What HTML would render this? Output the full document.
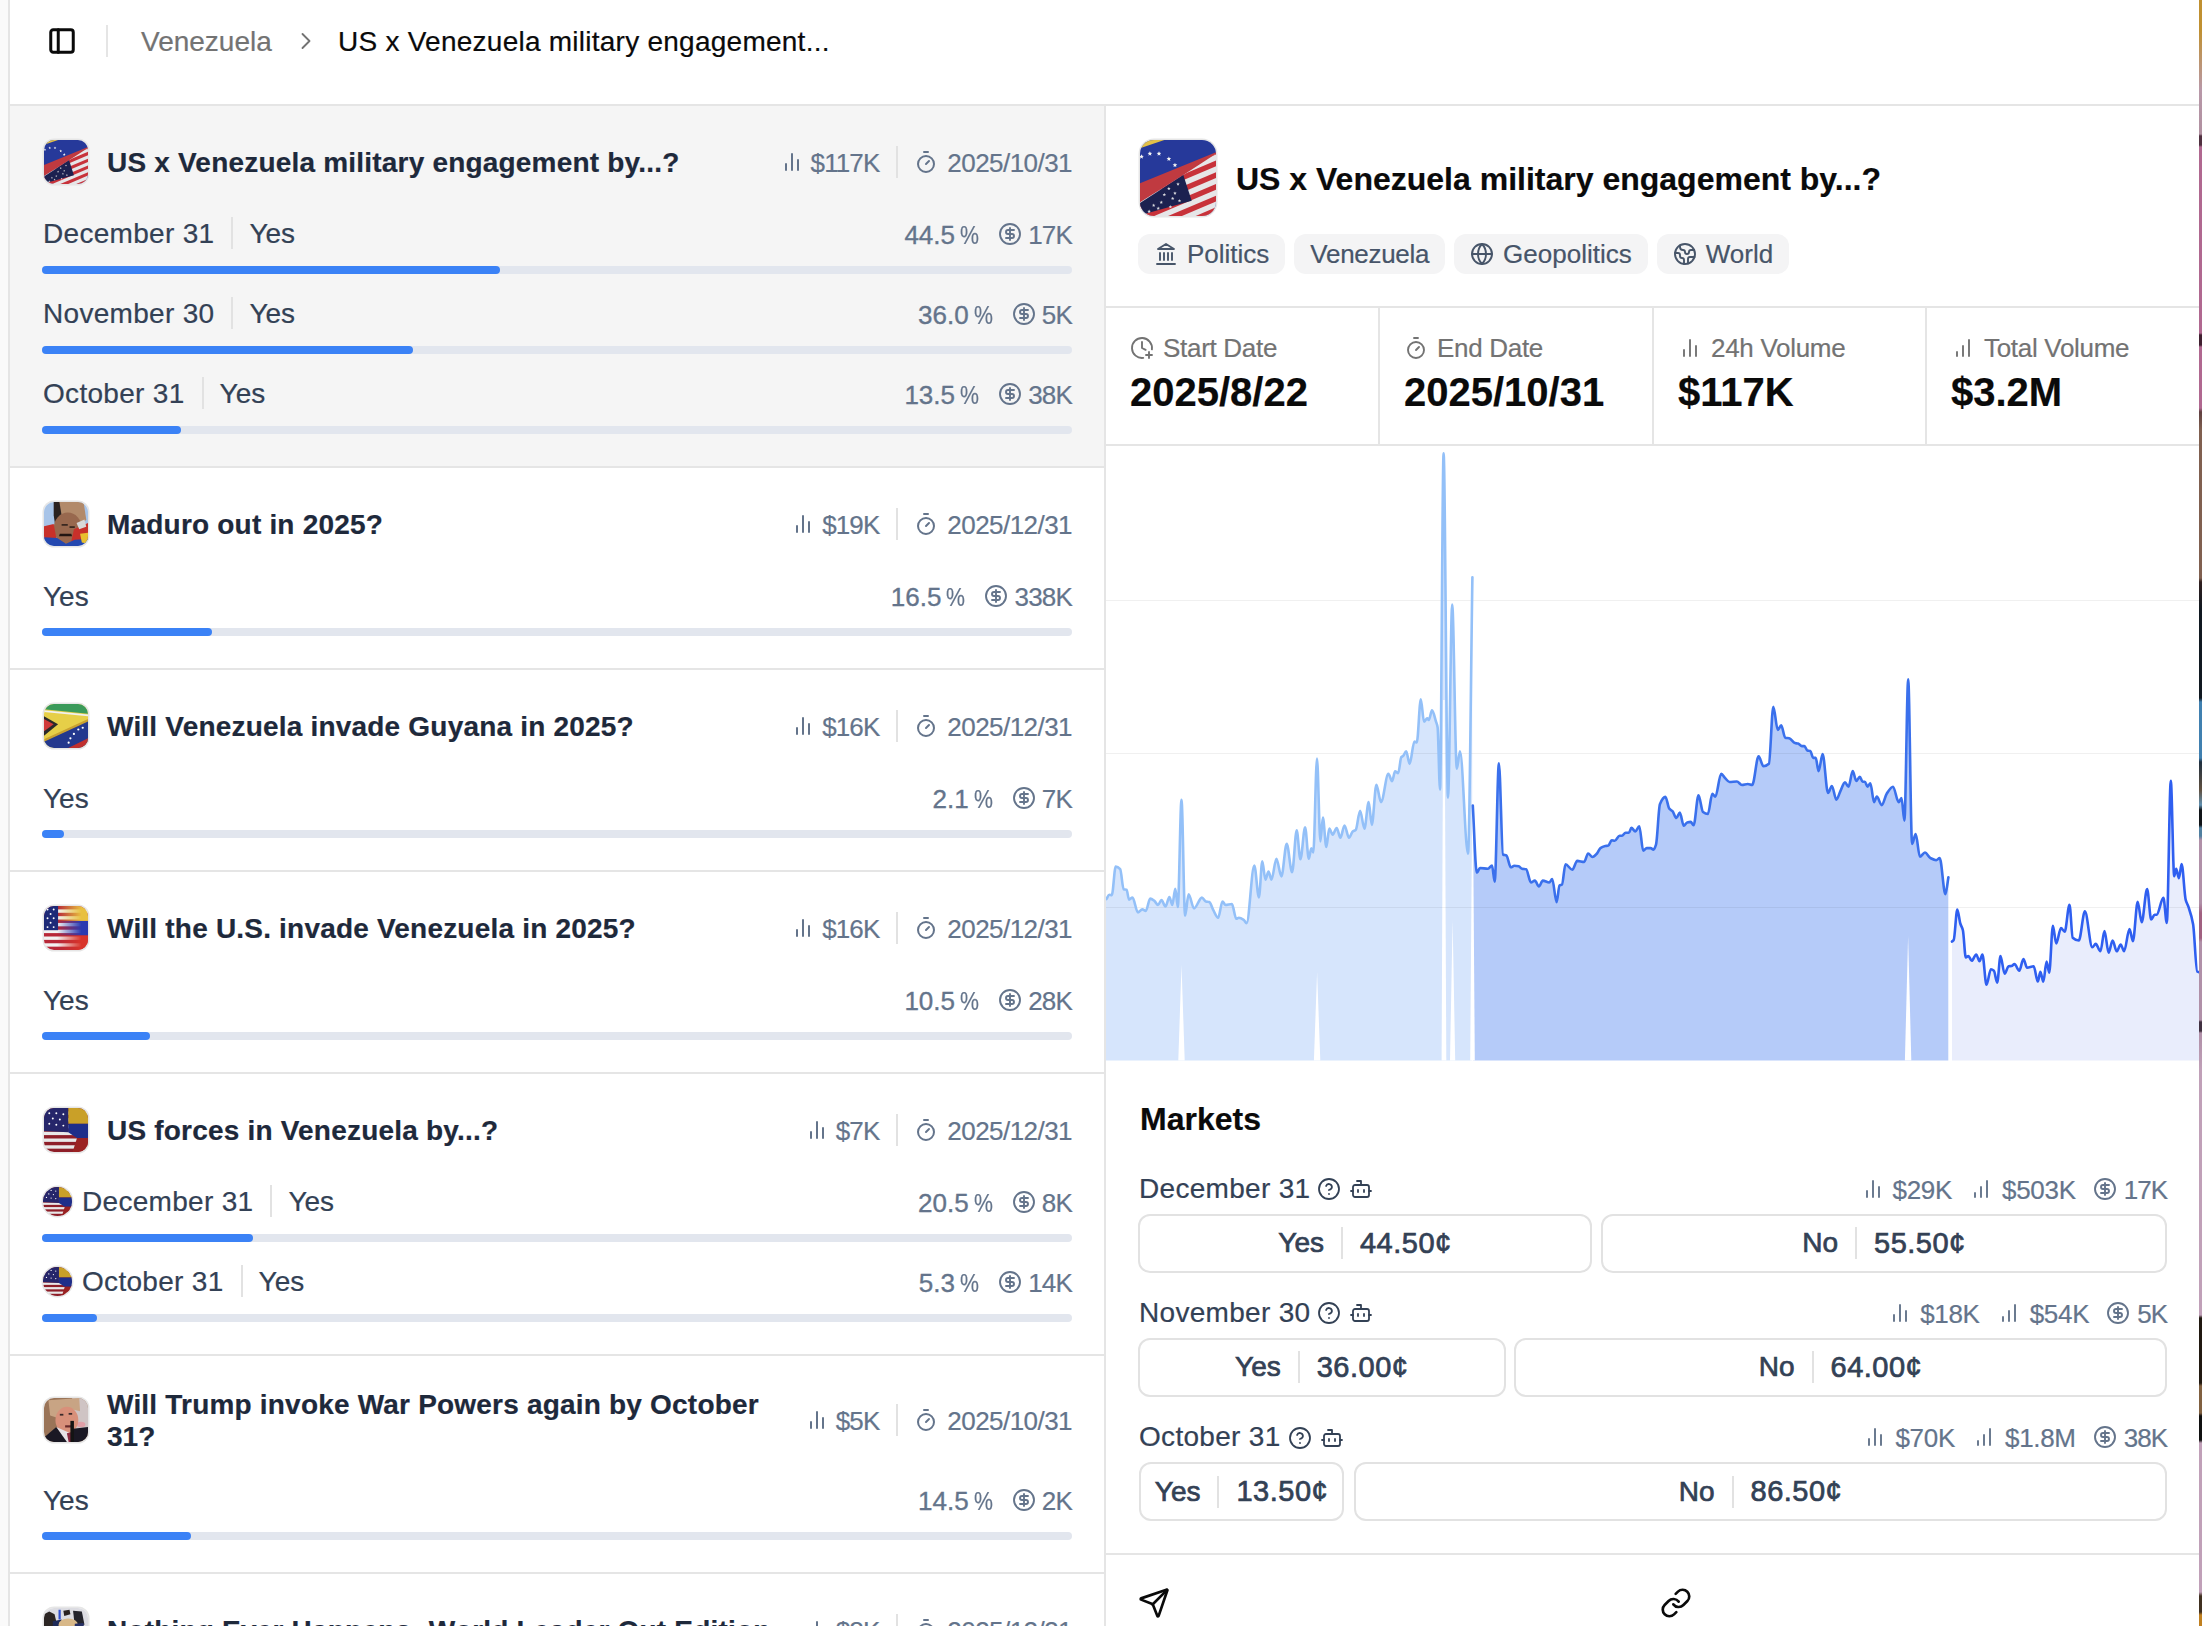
<!DOCTYPE html><html><head><meta charset="utf-8"><style>html,body{margin:0;padding:0;}body{width:2202px;height:1626px;overflow:hidden;position:relative;background:#fff;font-family:"Liberation Sans", sans-serif;-webkit-font-smoothing:antialiased;-webkit-text-stroke:0.2px currentColor;}</style></head><body><div style="position:absolute;left:0px;top:0px;width:8px;height:1626px;background:#fafafa;"></div>
<div style="position:absolute;left:8px;top:0px;width:2px;height:1626px;background:#e5e5e5;"></div>
<div style="position:absolute;left:2199px;top:0px;width:3px;height:1626px;background:linear-gradient(#c09030 0px,#c09030 30px,#b898a8 90px,#b090a0 134px,#503040 136px,#503040 145px,#b06890 147px,#b06890 333px,#402030 335px,#402030 345px,#b06890 347px,#b06890 408px,#604040 412px,#806050 430px,#806050 578px,#302020 582px,#101820 610px,#101820 698px,#4080b0 702px,#4080b0 758px,#203040 762px,#605040 790px,#6090b0 805px,#101418 810px,#101418 825px,#5080a0 828px,#5080a0 836px,#b090a8 840px,#b090a8 903px,#a06080 913px,#a06080 938px,#b090a8 942px,#b090a8 1020px,#403040 1022px,#403040 1031px,#b090a8 1033px,#c0a0b8 1070px,#c0a0b8 1315px,#201810 1318px,#201810 1383px,#806040 1386px,#806040 1413px,#101010 1416px,#101010 1440px,#c0a0b8 1443px,#c0a0b8 1592px,#403020 1596px,#403020 1612px,#c08020 1615px,#c08020 1626px);left:2199.4px;"></div>
<div style="position:absolute;left:10px;top:104px;width:2189px;height:2px;background:#e5e5e5;"></div>
<div style="position:absolute;left:1104px;top:106px;width:2px;height:1520px;background:#e5e5e5;"></div>
<svg style="position:absolute;left:47px;top:26px;" width="30" height="30" viewBox="0 0 24 24" fill="none" stroke="#0a0a0a" stroke-width="2.4" stroke-linecap="round" stroke-linejoin="round"><rect width="18" height="18" x="3" y="3" rx="2"/><path d="M9 3v18"/></svg>
<div style="position:absolute;left:106px;top:25px;width:2px;height:32px;background:#e5e5e5;"></div>
<div style="position:absolute;left:141px;top:21.10px;height:42px;line-height:42px;font-size:28px;font-weight:400;color:#737373;white-space:nowrap;">Venezuela</div>
<svg style="position:absolute;left:292px;top:27px;" width="28" height="28" viewBox="0 0 24 24" fill="none" stroke="#737373" stroke-width="1.6" stroke-linecap="round" stroke-linejoin="round"><path d="m9 18 6-6-6-6"/></svg>
<div style="position:absolute;left:338px;top:21.10px;height:42px;line-height:42px;font-size:28px;font-weight:400;color:#0a0a0a;white-space:nowrap;letter-spacing:0.25px;">US x Venezuela military engagement...</div>
<div style="position:absolute;left:10px;top:106px;width:1094px;height:360px;background:#f5f5f5;"></div>
<div style="position:absolute;left:44px;top:140px;width:44px;height:44px;border-radius:10px;overflow:hidden;box-shadow:0 0 0 1.5px #e6e6e6;"><svg width="44" height="44" viewBox="0 0 100 100" preserveAspectRatio="none" style="display:block"><defs><clipPath id="c1"><polygon points="0,100 0,82 57,46 100,18 100,100"/></clipPath></defs><rect width="100" height="100" fill="#26399a"/><polygon points="0,0 32,0 0,11" fill="#e2c048"/><polygon points="2.00,18.80 2.85,20.84 5.04,21.01 3.37,22.44 3.88,24.59 2.00,23.44 0.12,24.59 0.63,22.44 -1.04,21.01 1.15,20.84" fill="#f4f4f4"/><polygon points="13.00,14.80 13.85,16.84 16.04,17.01 14.37,18.44 14.88,20.59 13.00,19.44 11.12,20.59 11.63,18.44 9.96,17.01 12.15,16.84" fill="#f4f4f4"/><polygon points="25.00,14.80 25.85,16.84 28.04,17.01 26.37,18.44 26.88,20.59 25.00,19.44 23.12,20.59 23.63,18.44 21.96,17.01 24.15,16.84" fill="#f4f4f4"/><polygon points="38.00,21.80 38.85,23.84 41.04,24.01 39.37,25.44 39.88,27.59 38.00,26.44 36.12,27.59 36.63,25.44 34.96,24.01 37.15,23.84" fill="#f4f4f4"/><polygon points="46.00,29.80 46.85,31.84 49.04,32.01 47.37,33.44 47.88,35.59 46.00,34.44 44.12,35.59 44.63,33.44 42.96,32.01 45.15,31.84" fill="#f4f4f4"/><polygon points="0,57 100,16 100,24 57,46 0,83" fill="#c03a40"/><g clip-path="url(#c1)"><rect width="100" height="100" fill="#e6e6e8"/><g transform="rotate(-23 60 60)"><rect x="-60" y="-40.0" width="240" height="7.1" fill="#c8323a"/><rect x="-60" y="-25.8" width="240" height="7.1" fill="#c8323a"/><rect x="-60" y="-11.6" width="240" height="7.1" fill="#c8323a"/><rect x="-60" y="2.6" width="240" height="7.1" fill="#c8323a"/><rect x="-60" y="16.8" width="240" height="7.1" fill="#c8323a"/><rect x="-60" y="31.0" width="240" height="7.1" fill="#c8323a"/><rect x="-60" y="45.2" width="240" height="7.1" fill="#c8323a"/><rect x="-60" y="59.4" width="240" height="7.1" fill="#c8323a"/><rect x="-60" y="73.6" width="240" height="7.1" fill="#c8323a"/><rect x="-60" y="87.8" width="240" height="7.1" fill="#c8323a"/><rect x="-60" y="102.0" width="240" height="7.1" fill="#c8323a"/><rect x="-60" y="116.2" width="240" height="7.1" fill="#c8323a"/><rect x="-60" y="130.4" width="240" height="7.1" fill="#c8323a"/><rect x="-60" y="144.6" width="240" height="7.1" fill="#c8323a"/><rect x="-60" y="158.8" width="240" height="7.1" fill="#c8323a"/><rect x="-60" y="173.0" width="240" height="7.1" fill="#c8323a"/><rect x="-60" y="187.2" width="240" height="7.1" fill="#c8323a"/><rect x="-60" y="201.4" width="240" height="7.1" fill="#c8323a"/><rect x="-60" y="215.6" width="240" height="7.1" fill="#c8323a"/><rect x="-60" y="229.8" width="240" height="7.1" fill="#c8323a"/></g></g><polygon points="0,83 57,46 68,80 0,99" fill="#1c2150"/><polygon points="38.00,61.60 38.63,63.13 40.28,63.26 39.03,64.33 39.41,65.94 38.00,65.08 36.59,65.94 36.97,64.33 35.72,63.26 37.37,63.13" fill="#d8d8dc"/><polygon points="46.00,67.60 46.63,69.13 48.28,69.26 47.03,70.33 47.41,71.94 46.00,71.08 44.59,71.94 44.97,70.33 43.72,69.26 45.37,69.13" fill="#d8d8dc"/><polygon points="32.00,69.60 32.63,71.13 34.28,71.26 33.03,72.33 33.41,73.94 32.00,73.08 30.59,73.94 30.97,72.33 29.72,71.26 31.37,71.13" fill="#d8d8dc"/><polygon points="43.00,74.60 43.63,76.13 45.28,76.26 44.03,77.33 44.41,78.94 43.00,78.08 41.59,78.94 41.97,77.33 40.72,76.26 42.37,76.13" fill="#d8d8dc"/><polygon points="52.00,77.60 52.63,79.13 54.28,79.26 53.03,80.33 53.41,81.94 52.00,81.08 50.59,81.94 50.97,80.33 49.72,79.26 51.37,79.13" fill="#d8d8dc"/><polygon points="28.00,79.60 28.63,81.13 30.28,81.26 29.03,82.33 29.41,83.94 28.00,83.08 26.59,83.94 26.97,82.33 25.72,81.26 27.37,81.13" fill="#d8d8dc"/><polygon points="40.00,85.60 40.63,87.13 42.28,87.26 41.03,88.33 41.41,89.94 40.00,89.08 38.59,89.94 38.97,88.33 37.72,87.26 39.37,87.13" fill="#d8d8dc"/><polygon points="18.00,83.60 18.63,85.13 20.28,85.26 19.03,86.33 19.41,87.94 18.00,87.08 16.59,87.94 16.97,86.33 15.72,85.26 17.37,85.13" fill="#d8d8dc"/><polygon points="12.00,91.60 12.63,93.13 14.28,93.26 13.03,94.33 13.41,95.94 12.00,95.08 10.59,95.94 10.97,94.33 9.72,93.26 11.37,93.13" fill="#d8d8dc"/><polygon points="50.00,55.60 50.63,57.13 52.28,57.26 51.03,58.33 51.41,59.94 50.00,59.08 48.59,59.94 48.97,58.33 47.72,57.26 49.37,57.13" fill="#d8d8dc"/><polygon points="24.00,87.60 24.63,89.13 26.28,89.26 25.03,90.33 25.41,91.94 24.00,91.08 22.59,91.94 22.97,90.33 21.72,89.26 23.37,89.13" fill="#d8d8dc"/></svg></div>
<div style="position:absolute;left:107px;top:142.10px;height:42px;line-height:42px;font-size:28px;font-weight:700;color:#1e293b;white-space:nowrap;letter-spacing:0.2px;">US x Venezuela military engagement by...?</div>
<div style="position:absolute;right:1130px;top:143px;height:40px;display:flex;align-items:center;color:#64748b;font-size:26px;line-height:40px;white-space:nowrap"><svg width="24" height="24" viewBox="0 0 24 24" fill="none" stroke="#64748b" stroke-width="2" stroke-linecap="round" stroke-linejoin="round" style="margin-right:7px;margin-top:-2px"><line x1="18" x2="18" y1="20" y2="10"/><line x1="12" x2="12" y1="20" y2="4"/><line x1="6" x2="6" y1="20" y2="14"/></svg><span style="letter-spacing:-0.9px">$117K</span><span style="display:inline-block;width:2px;height:32px;background:#e2e2e2;margin:0 16px 0 17px;position:relative;top:-1px"></span><svg width="24" height="24" viewBox="0 0 24 24" fill="none" stroke="#64748b" stroke-width="2" stroke-linecap="round" stroke-linejoin="round" style="margin-right:9px;margin-top:-3px"><line x1="10" x2="14" y1="2" y2="2"/><line x1="12" x2="15" y1="14" y2="11"/><circle cx="12" cy="14" r="8"/></svg><span style="letter-spacing:-0.55px">2025/10/31</span></div>
<div style="position:absolute;left:43px;top:214.30px;height:40px;display:flex;align-items:center;color:#334155;font-size:28px;line-height:40px;white-space:nowrap"><span style="letter-spacing:0.3px">December 31</span><span style="display:inline-block;width:2px;height:32px;background:#e2e2e2;margin:0 16px 0 17px;position:relative;top:-1px"></span><span>Yes</span></div>
<div style="position:absolute;right:1130px;top:215.00px;height:40px;display:flex;align-items:center;color:#64748b;font-size:26px;line-height:40px;white-space:nowrap"><span style="-webkit-text-stroke:0.35px #64748b">44.5</span><span style="margin-left:5px;letter-spacing:-1px;transform:scaleX(0.82);display:inline-block;transform-origin:left">%</span><svg width="24" height="24" viewBox="0 0 24 24" fill="none" stroke="#64748b" stroke-width="1.9" stroke-linecap="round" stroke-linejoin="round" style="margin-left:16px;margin-right:6px;margin-top:-2px"><circle cx="12" cy="12" r="10"/><path d="M16 8h-6a2 2 0 1 0 0 4h4a2 2 0 1 1 0 4H8"/><path d="M12 18V6"/></svg><span style="letter-spacing:-0.8px">17K</span></div>
<div style="position:absolute;left:42px;top:266px;width:1030px;height:8px;background:#e2e6ee;border-radius:4px;"></div>
<div style="position:absolute;left:42px;top:266px;width:458px;height:8px;background:#3b82f6;border-radius:4px;"></div>
<div style="position:absolute;left:43px;top:294.30px;height:40px;display:flex;align-items:center;color:#334155;font-size:28px;line-height:40px;white-space:nowrap"><span style="letter-spacing:0.3px">November 30</span><span style="display:inline-block;width:2px;height:32px;background:#e2e2e2;margin:0 16px 0 17px;position:relative;top:-1px"></span><span>Yes</span></div>
<div style="position:absolute;right:1130px;top:295.00px;height:40px;display:flex;align-items:center;color:#64748b;font-size:26px;line-height:40px;white-space:nowrap"><span style="-webkit-text-stroke:0.35px #64748b">36.0</span><span style="margin-left:5px;letter-spacing:-1px;transform:scaleX(0.82);display:inline-block;transform-origin:left">%</span><svg width="24" height="24" viewBox="0 0 24 24" fill="none" stroke="#64748b" stroke-width="1.9" stroke-linecap="round" stroke-linejoin="round" style="margin-left:16px;margin-right:6px;margin-top:-2px"><circle cx="12" cy="12" r="10"/><path d="M16 8h-6a2 2 0 1 0 0 4h4a2 2 0 1 1 0 4H8"/><path d="M12 18V6"/></svg><span style="letter-spacing:-0.8px">5K</span></div>
<div style="position:absolute;left:42px;top:346px;width:1030px;height:8px;background:#e2e6ee;border-radius:4px;"></div>
<div style="position:absolute;left:42px;top:346px;width:371px;height:8px;background:#3b82f6;border-radius:4px;"></div>
<div style="position:absolute;left:43px;top:374.30px;height:40px;display:flex;align-items:center;color:#334155;font-size:28px;line-height:40px;white-space:nowrap"><span style="letter-spacing:0.3px">October 31</span><span style="display:inline-block;width:2px;height:32px;background:#e2e2e2;margin:0 16px 0 17px;position:relative;top:-1px"></span><span>Yes</span></div>
<div style="position:absolute;right:1130px;top:375.00px;height:40px;display:flex;align-items:center;color:#64748b;font-size:26px;line-height:40px;white-space:nowrap"><span style="-webkit-text-stroke:0.35px #64748b">13.5</span><span style="margin-left:5px;letter-spacing:-1px;transform:scaleX(0.82);display:inline-block;transform-origin:left">%</span><svg width="24" height="24" viewBox="0 0 24 24" fill="none" stroke="#64748b" stroke-width="1.9" stroke-linecap="round" stroke-linejoin="round" style="margin-left:16px;margin-right:6px;margin-top:-2px"><circle cx="12" cy="12" r="10"/><path d="M16 8h-6a2 2 0 1 0 0 4h4a2 2 0 1 1 0 4H8"/><path d="M12 18V6"/></svg><span style="letter-spacing:-0.8px">38K</span></div>
<div style="position:absolute;left:42px;top:426px;width:1030px;height:8px;background:#e2e6ee;border-radius:4px;"></div>
<div style="position:absolute;left:42px;top:426px;width:139px;height:8px;background:#3b82f6;border-radius:4px;"></div>
<div style="position:absolute;left:44px;top:502px;width:44px;height:44px;border-radius:10px;overflow:hidden;box-shadow:0 0 0 1.5px #e6e6e6;"><svg width="44" height="44" viewBox="0 0 100 100" preserveAspectRatio="none" style="display:block"><rect width="100" height="100" fill="#a8c4e8"/><polygon points="22,0 60,0 55,45 25,50 22,30" fill="#2a2220"/><polygon points="35,0 90,0 96,40 80,60 55,50 40,30" fill="#b28a6a"/><ellipse cx="54" cy="60" rx="32" ry="36" fill="#98684e"/><rect x="40" y="50" width="14" height="4" fill="#3a2820"/><rect x="58" y="55" width="12" height="4" fill="#3a2820"/><polygon points="36,72 62,72 64,78 34,78" fill="#221612"/><polygon points="0,55 22,50 28,82 0,84" fill="#c8302a"/><polygon points="68,62 100,48 100,86 62,90" fill="#c8302a"/><polygon points="74,48 92,40 96,56 80,62" fill="#d8d8d8"/><polygon points="0,80 30,82 50,95 70,86 100,84 100,100 0,100" fill="#2448b0"/><polygon points="82,72 100,70 100,95 86,92" fill="#e8c030"/></svg></div>
<div style="position:absolute;left:107px;top:504.10px;height:42px;line-height:42px;font-size:28px;font-weight:700;color:#1e293b;white-space:nowrap;letter-spacing:0.2px;">Maduro out in 2025?</div>
<div style="position:absolute;right:1130px;top:505px;height:40px;display:flex;align-items:center;color:#64748b;font-size:26px;line-height:40px;white-space:nowrap"><svg width="24" height="24" viewBox="0 0 24 24" fill="none" stroke="#64748b" stroke-width="2" stroke-linecap="round" stroke-linejoin="round" style="margin-right:7px;margin-top:-2px"><line x1="18" x2="18" y1="20" y2="10"/><line x1="12" x2="12" y1="20" y2="4"/><line x1="6" x2="6" y1="20" y2="14"/></svg><span style="letter-spacing:-0.9px">$19K</span><span style="display:inline-block;width:2px;height:32px;background:#e2e2e2;margin:0 16px 0 17px;position:relative;top:-1px"></span><svg width="24" height="24" viewBox="0 0 24 24" fill="none" stroke="#64748b" stroke-width="2" stroke-linecap="round" stroke-linejoin="round" style="margin-right:9px;margin-top:-3px"><line x1="10" x2="14" y1="2" y2="2"/><line x1="12" x2="15" y1="14" y2="11"/><circle cx="12" cy="14" r="8"/></svg><span style="letter-spacing:-0.55px">2025/12/31</span></div>
<div style="position:absolute;left:43px;top:576.10px;height:42px;line-height:42px;font-size:28px;font-weight:400;color:#334155;white-space:nowrap;">Yes</div>
<div style="position:absolute;right:1130px;top:577.00px;height:40px;display:flex;align-items:center;color:#64748b;font-size:26px;line-height:40px;white-space:nowrap"><span style="-webkit-text-stroke:0.35px #64748b">16.5</span><span style="margin-left:5px;letter-spacing:-1px;transform:scaleX(0.82);display:inline-block;transform-origin:left">%</span><svg width="24" height="24" viewBox="0 0 24 24" fill="none" stroke="#64748b" stroke-width="1.9" stroke-linecap="round" stroke-linejoin="round" style="margin-left:16px;margin-right:6px;margin-top:-2px"><circle cx="12" cy="12" r="10"/><path d="M16 8h-6a2 2 0 1 0 0 4h4a2 2 0 1 1 0 4H8"/><path d="M12 18V6"/></svg><span style="letter-spacing:-0.8px">338K</span></div>
<div style="position:absolute;left:42px;top:628px;width:1030px;height:8px;background:#e2e6ee;border-radius:4px;"></div>
<div style="position:absolute;left:42px;top:628px;width:170px;height:8px;background:#3b82f6;border-radius:4px;"></div>
<div style="position:absolute;left:44px;top:704px;width:44px;height:44px;border-radius:10px;overflow:hidden;box-shadow:0 0 0 1.5px #e6e6e6;"><svg width="44" height="44" viewBox="0 0 100 100" preserveAspectRatio="none" style="display:block"><rect width="100" height="100" fill="#e6cf48"/><polygon points="10,0 100,0 100,22 0,12" fill="#3a9a5a"/><polygon points="0,14 100,24 100,28 0,18" fill="#f0f0f0"/><polygon points="0,28 32,46 0,72" fill="#2a2a2a"/><polygon points="0,34 22,46 0,62" fill="#d03a3a"/><polygon points="0,84 100,38 100,100 0,100" fill="#23388e"/><polygon points="0,80 100,34 100,40 0,86" fill="#c9a030"/><polygon points="55,100 100,78 100,100" fill="#c0302e"/><g fill="#fff"><circle cx="78" cy="58" r="2.5"/><circle cx="68" cy="68" r="2.5"/><circle cx="60" cy="78" r="2.5"/><circle cx="56" cy="88" r="2.5"/><circle cx="88" cy="54" r="2.5"/></g></svg></div>
<div style="position:absolute;left:107px;top:706.10px;height:42px;line-height:42px;font-size:28px;font-weight:700;color:#1e293b;white-space:nowrap;letter-spacing:0.2px;">Will Venezuela invade Guyana in 2025?</div>
<div style="position:absolute;right:1130px;top:707px;height:40px;display:flex;align-items:center;color:#64748b;font-size:26px;line-height:40px;white-space:nowrap"><svg width="24" height="24" viewBox="0 0 24 24" fill="none" stroke="#64748b" stroke-width="2" stroke-linecap="round" stroke-linejoin="round" style="margin-right:7px;margin-top:-2px"><line x1="18" x2="18" y1="20" y2="10"/><line x1="12" x2="12" y1="20" y2="4"/><line x1="6" x2="6" y1="20" y2="14"/></svg><span style="letter-spacing:-0.9px">$16K</span><span style="display:inline-block;width:2px;height:32px;background:#e2e2e2;margin:0 16px 0 17px;position:relative;top:-1px"></span><svg width="24" height="24" viewBox="0 0 24 24" fill="none" stroke="#64748b" stroke-width="2" stroke-linecap="round" stroke-linejoin="round" style="margin-right:9px;margin-top:-3px"><line x1="10" x2="14" y1="2" y2="2"/><line x1="12" x2="15" y1="14" y2="11"/><circle cx="12" cy="14" r="8"/></svg><span style="letter-spacing:-0.55px">2025/12/31</span></div>
<div style="position:absolute;left:43px;top:778.10px;height:42px;line-height:42px;font-size:28px;font-weight:400;color:#334155;white-space:nowrap;">Yes</div>
<div style="position:absolute;right:1130px;top:779.00px;height:40px;display:flex;align-items:center;color:#64748b;font-size:26px;line-height:40px;white-space:nowrap"><span style="-webkit-text-stroke:0.35px #64748b">2.1</span><span style="margin-left:5px;letter-spacing:-1px;transform:scaleX(0.82);display:inline-block;transform-origin:left">%</span><svg width="24" height="24" viewBox="0 0 24 24" fill="none" stroke="#64748b" stroke-width="1.9" stroke-linecap="round" stroke-linejoin="round" style="margin-left:16px;margin-right:6px;margin-top:-2px"><circle cx="12" cy="12" r="10"/><path d="M16 8h-6a2 2 0 1 0 0 4h4a2 2 0 1 1 0 4H8"/><path d="M12 18V6"/></svg><span style="letter-spacing:-0.8px">7K</span></div>
<div style="position:absolute;left:42px;top:830px;width:1030px;height:8px;background:#e2e6ee;border-radius:4px;"></div>
<div style="position:absolute;left:42px;top:830px;width:22px;height:8px;background:#3b82f6;border-radius:4px;"></div>
<div style="position:absolute;left:44px;top:906px;width:44px;height:44px;border-radius:10px;overflow:hidden;box-shadow:0 0 0 1.5px #e6e6e6;"><svg width="44" height="44" viewBox="0 0 100 100" preserveAspectRatio="none" style="display:block"><defs><linearGradient id="gc2" x1="0" x2="1" y1="0" y2="0"><stop offset="0.3" stop-color="#fff" stop-opacity="0"/><stop offset="0.85" stop-color="#fff" stop-opacity="1"/></linearGradient><mask id="mc2"><rect width="100" height="100" fill="url(#gc2)"/></mask></defs><rect width="100" height="100" fill="#f2f2f2"/><rect x="0" y="0.0" width="100" height="7.7" fill="#b82838"/><rect x="0" y="15.4" width="100" height="7.7" fill="#b82838"/><rect x="0" y="30.8" width="100" height="7.7" fill="#b82838"/><rect x="0" y="46.2" width="100" height="7.7" fill="#b82838"/><rect x="0" y="61.6" width="100" height="7.7" fill="#b82838"/><rect x="0" y="77.0" width="100" height="7.7" fill="#b82838"/><rect x="0" y="92.4" width="100" height="7.7" fill="#b82838"/><g mask="url(#mc2)"><rect x="0" y="0" width="100" height="34" fill="#e8c040"/><rect x="0" y="34" width="100" height="33" fill="#2a3ab0"/><rect x="0" y="67" width="100" height="33" fill="#d8342a"/></g><rect x="0" y="0" width="32" height="55" fill="#1e2a78"/><g fill="#fff"><circle cx="8" cy="8" r="2.2"/><circle cx="22" cy="8" r="2.2"/><circle cx="15" cy="18" r="2.2"/><circle cx="8" cy="28" r="2.2"/><circle cx="22" cy="28" r="2.2"/><circle cx="15" cy="38" r="2.2"/><circle cx="8" cy="48" r="2.2"/><circle cx="22" cy="48" r="2.2"/></g></svg></div>
<div style="position:absolute;left:107px;top:908.10px;height:42px;line-height:42px;font-size:28px;font-weight:700;color:#1e293b;white-space:nowrap;letter-spacing:0.2px;">Will the U.S. invade Venezuela in 2025?</div>
<div style="position:absolute;right:1130px;top:909px;height:40px;display:flex;align-items:center;color:#64748b;font-size:26px;line-height:40px;white-space:nowrap"><svg width="24" height="24" viewBox="0 0 24 24" fill="none" stroke="#64748b" stroke-width="2" stroke-linecap="round" stroke-linejoin="round" style="margin-right:7px;margin-top:-2px"><line x1="18" x2="18" y1="20" y2="10"/><line x1="12" x2="12" y1="20" y2="4"/><line x1="6" x2="6" y1="20" y2="14"/></svg><span style="letter-spacing:-0.9px">$16K</span><span style="display:inline-block;width:2px;height:32px;background:#e2e2e2;margin:0 16px 0 17px;position:relative;top:-1px"></span><svg width="24" height="24" viewBox="0 0 24 24" fill="none" stroke="#64748b" stroke-width="2" stroke-linecap="round" stroke-linejoin="round" style="margin-right:9px;margin-top:-3px"><line x1="10" x2="14" y1="2" y2="2"/><line x1="12" x2="15" y1="14" y2="11"/><circle cx="12" cy="14" r="8"/></svg><span style="letter-spacing:-0.55px">2025/12/31</span></div>
<div style="position:absolute;left:43px;top:980.10px;height:42px;line-height:42px;font-size:28px;font-weight:400;color:#334155;white-space:nowrap;">Yes</div>
<div style="position:absolute;right:1130px;top:981.00px;height:40px;display:flex;align-items:center;color:#64748b;font-size:26px;line-height:40px;white-space:nowrap"><span style="-webkit-text-stroke:0.35px #64748b">10.5</span><span style="margin-left:5px;letter-spacing:-1px;transform:scaleX(0.82);display:inline-block;transform-origin:left">%</span><svg width="24" height="24" viewBox="0 0 24 24" fill="none" stroke="#64748b" stroke-width="1.9" stroke-linecap="round" stroke-linejoin="round" style="margin-left:16px;margin-right:6px;margin-top:-2px"><circle cx="12" cy="12" r="10"/><path d="M16 8h-6a2 2 0 1 0 0 4h4a2 2 0 1 1 0 4H8"/><path d="M12 18V6"/></svg><span style="letter-spacing:-0.8px">28K</span></div>
<div style="position:absolute;left:42px;top:1032px;width:1030px;height:8px;background:#e2e6ee;border-radius:4px;"></div>
<div style="position:absolute;left:42px;top:1032px;width:108px;height:8px;background:#3b82f6;border-radius:4px;"></div>
<div style="position:absolute;left:44px;top:1108px;width:44px;height:44px;border-radius:10px;overflow:hidden;box-shadow:0 0 0 1.5px #e6e6e6;"><svg width="44" height="44" viewBox="0 0 100 100" preserveAspectRatio="none" style="display:block"><rect width="100" height="100" fill="#e8e8e8"/><rect x="0" y="0.0" width="100" height="7.7" fill="#8e1e28"/><rect x="0" y="15.4" width="100" height="7.7" fill="#8e1e28"/><rect x="0" y="30.8" width="100" height="7.7" fill="#8e1e28"/><rect x="0" y="46.2" width="100" height="7.7" fill="#8e1e28"/><rect x="0" y="61.6" width="100" height="7.7" fill="#8e1e28"/><rect x="0" y="77.0" width="100" height="7.7" fill="#8e1e28"/><rect x="0" y="92.4" width="100" height="7.7" fill="#8e1e28"/><rect x="55" y="0" width="45" height="36" fill="#c9a028"/><polygon points="55,36 100,36 100,68 75,68 55,55" fill="#1e2e8a"/><polygon points="75,68 100,68 100,100 65,100" fill="#9a2222"/><polygon points="0,0 55,0 55,55 0,52" fill="#26266a"/><g fill="#fff"><circle cx="12" cy="12" r="2.2"/><circle cx="28" cy="12" r="2.2"/><circle cx="44" cy="14" r="2.2"/><circle cx="20" cy="24" r="2.2"/><circle cx="36" cy="26" r="2.2"/><circle cx="12" cy="36" r="2.2"/><circle cx="28" cy="38" r="2.2"/><circle cx="44" cy="40" r="2.2"/></g></svg></div>
<div style="position:absolute;left:107px;top:1110.10px;height:42px;line-height:42px;font-size:28px;font-weight:700;color:#1e293b;white-space:nowrap;letter-spacing:0.2px;">US forces in Venezuela by...?</div>
<div style="position:absolute;right:1130px;top:1111px;height:40px;display:flex;align-items:center;color:#64748b;font-size:26px;line-height:40px;white-space:nowrap"><svg width="24" height="24" viewBox="0 0 24 24" fill="none" stroke="#64748b" stroke-width="2" stroke-linecap="round" stroke-linejoin="round" style="margin-right:7px;margin-top:-2px"><line x1="18" x2="18" y1="20" y2="10"/><line x1="12" x2="12" y1="20" y2="4"/><line x1="6" x2="6" y1="20" y2="14"/></svg><span style="letter-spacing:-0.9px">$7K</span><span style="display:inline-block;width:2px;height:32px;background:#e2e2e2;margin:0 16px 0 17px;position:relative;top:-1px"></span><svg width="24" height="24" viewBox="0 0 24 24" fill="none" stroke="#64748b" stroke-width="2" stroke-linecap="round" stroke-linejoin="round" style="margin-right:9px;margin-top:-3px"><line x1="10" x2="14" y1="2" y2="2"/><line x1="12" x2="15" y1="14" y2="11"/><circle cx="12" cy="14" r="8"/></svg><span style="letter-spacing:-0.55px">2025/12/31</span></div>
<div style="position:absolute;left:43px;top:1187px;width:29px;height:29px;border-radius:14.5px;overflow:hidden;box-shadow:0 0 0 1.5px #e6e6e6;"><svg width="29" height="29" viewBox="0 0 100 100" preserveAspectRatio="none" style="display:block"><rect width="100" height="100" fill="#e8e8e8"/><rect x="0" y="0.0" width="100" height="7.7" fill="#8e1e28"/><rect x="0" y="15.4" width="100" height="7.7" fill="#8e1e28"/><rect x="0" y="30.8" width="100" height="7.7" fill="#8e1e28"/><rect x="0" y="46.2" width="100" height="7.7" fill="#8e1e28"/><rect x="0" y="61.6" width="100" height="7.7" fill="#8e1e28"/><rect x="0" y="77.0" width="100" height="7.7" fill="#8e1e28"/><rect x="0" y="92.4" width="100" height="7.7" fill="#8e1e28"/><rect x="55" y="0" width="45" height="36" fill="#c9a028"/><polygon points="55,36 100,36 100,68 75,68 55,55" fill="#1e2e8a"/><polygon points="75,68 100,68 100,100 65,100" fill="#9a2222"/><polygon points="0,0 55,0 55,55 0,52" fill="#26266a"/><g fill="#fff"><circle cx="12" cy="12" r="2.2"/><circle cx="28" cy="12" r="2.2"/><circle cx="44" cy="14" r="2.2"/><circle cx="20" cy="24" r="2.2"/><circle cx="36" cy="26" r="2.2"/><circle cx="12" cy="36" r="2.2"/><circle cx="28" cy="38" r="2.2"/><circle cx="44" cy="40" r="2.2"/></g></svg></div>
<div style="position:absolute;left:82px;top:1182.30px;height:40px;display:flex;align-items:center;color:#334155;font-size:28px;line-height:40px;white-space:nowrap"><span style="letter-spacing:0.3px">December 31</span><span style="display:inline-block;width:2px;height:32px;background:#e2e2e2;margin:0 16px 0 17px;position:relative;top:-1px"></span><span>Yes</span></div>
<div style="position:absolute;right:1130px;top:1183.00px;height:40px;display:flex;align-items:center;color:#64748b;font-size:26px;line-height:40px;white-space:nowrap"><span style="-webkit-text-stroke:0.35px #64748b">20.5</span><span style="margin-left:5px;letter-spacing:-1px;transform:scaleX(0.82);display:inline-block;transform-origin:left">%</span><svg width="24" height="24" viewBox="0 0 24 24" fill="none" stroke="#64748b" stroke-width="1.9" stroke-linecap="round" stroke-linejoin="round" style="margin-left:16px;margin-right:6px;margin-top:-2px"><circle cx="12" cy="12" r="10"/><path d="M16 8h-6a2 2 0 1 0 0 4h4a2 2 0 1 1 0 4H8"/><path d="M12 18V6"/></svg><span style="letter-spacing:-0.8px">8K</span></div>
<div style="position:absolute;left:42px;top:1234px;width:1030px;height:8px;background:#e2e6ee;border-radius:4px;"></div>
<div style="position:absolute;left:42px;top:1234px;width:211px;height:8px;background:#3b82f6;border-radius:4px;"></div>
<div style="position:absolute;left:43px;top:1267px;width:29px;height:29px;border-radius:14.5px;overflow:hidden;box-shadow:0 0 0 1.5px #e6e6e6;"><svg width="29" height="29" viewBox="0 0 100 100" preserveAspectRatio="none" style="display:block"><rect width="100" height="100" fill="#e8e8e8"/><rect x="0" y="0.0" width="100" height="7.7" fill="#8e1e28"/><rect x="0" y="15.4" width="100" height="7.7" fill="#8e1e28"/><rect x="0" y="30.8" width="100" height="7.7" fill="#8e1e28"/><rect x="0" y="46.2" width="100" height="7.7" fill="#8e1e28"/><rect x="0" y="61.6" width="100" height="7.7" fill="#8e1e28"/><rect x="0" y="77.0" width="100" height="7.7" fill="#8e1e28"/><rect x="0" y="92.4" width="100" height="7.7" fill="#8e1e28"/><rect x="55" y="0" width="45" height="36" fill="#c9a028"/><polygon points="55,36 100,36 100,68 75,68 55,55" fill="#1e2e8a"/><polygon points="75,68 100,68 100,100 65,100" fill="#9a2222"/><polygon points="0,0 55,0 55,55 0,52" fill="#26266a"/><g fill="#fff"><circle cx="12" cy="12" r="2.2"/><circle cx="28" cy="12" r="2.2"/><circle cx="44" cy="14" r="2.2"/><circle cx="20" cy="24" r="2.2"/><circle cx="36" cy="26" r="2.2"/><circle cx="12" cy="36" r="2.2"/><circle cx="28" cy="38" r="2.2"/><circle cx="44" cy="40" r="2.2"/></g></svg></div>
<div style="position:absolute;left:82px;top:1262.30px;height:40px;display:flex;align-items:center;color:#334155;font-size:28px;line-height:40px;white-space:nowrap"><span style="letter-spacing:0.3px">October 31</span><span style="display:inline-block;width:2px;height:32px;background:#e2e2e2;margin:0 16px 0 17px;position:relative;top:-1px"></span><span>Yes</span></div>
<div style="position:absolute;right:1130px;top:1263.00px;height:40px;display:flex;align-items:center;color:#64748b;font-size:26px;line-height:40px;white-space:nowrap"><span style="-webkit-text-stroke:0.35px #64748b">5.3</span><span style="margin-left:5px;letter-spacing:-1px;transform:scaleX(0.82);display:inline-block;transform-origin:left">%</span><svg width="24" height="24" viewBox="0 0 24 24" fill="none" stroke="#64748b" stroke-width="1.9" stroke-linecap="round" stroke-linejoin="round" style="margin-left:16px;margin-right:6px;margin-top:-2px"><circle cx="12" cy="12" r="10"/><path d="M16 8h-6a2 2 0 1 0 0 4h4a2 2 0 1 1 0 4H8"/><path d="M12 18V6"/></svg><span style="letter-spacing:-0.8px">14K</span></div>
<div style="position:absolute;left:42px;top:1314px;width:1030px;height:8px;background:#e2e6ee;border-radius:4px;"></div>
<div style="position:absolute;left:42px;top:1314px;width:55px;height:8px;background:#3b82f6;border-radius:4px;"></div>
<div style="position:absolute;left:44px;top:1398px;width:44px;height:44px;border-radius:10px;overflow:hidden;box-shadow:0 0 0 1.5px #e6e6e6;"><svg width="44" height="44" viewBox="0 0 100 100" preserveAspectRatio="none" style="display:block"><rect width="100" height="100" fill="#9a7458"/><rect x="64" y="0" width="36" height="75" fill="#cfc4c4"/><ellipse cx="84" cy="60" rx="10" ry="6" fill="#e0a0a8"/><polygon points="10,5 80,0 82,30 60,25 30,45 14,40" fill="#c8a484"/><ellipse cx="52" cy="50" rx="26" ry="30" fill="#d8907a"/><rect x="36" y="36" width="8" height="4" fill="#3a2a2a"/><rect x="56" y="34" width="8" height="4" fill="#3a2a2a"/><rect x="48" y="62" width="14" height="5" fill="#6a2a2a"/><polygon points="0,90 28,66 56,100 0,100" fill="#1a1824"/><polygon points="66,70 100,66 100,100 66,100" fill="#1a1824"/><polygon points="28,66 60,80 62,100 52,100" fill="#e6e2e6"/><polygon points="52,80 62,78 64,100 56,100" fill="#8a2a40"/><rect x="60" y="52" width="8" height="48" fill="#141414"/></svg></div>
<div style="position:absolute;left:107px;top:1389.10px;height:32px;line-height:32px;font-size:28px;font-weight:700;color:#1e293b;white-space:nowrap;letter-spacing:0.2px;">Will Trump invoke War Powers again by October</div>
<div style="position:absolute;left:107px;top:1421.10px;height:32px;line-height:32px;font-size:28px;font-weight:700;color:#1e293b;white-space:nowrap;">31?</div>
<div style="position:absolute;right:1130px;top:1401px;height:40px;display:flex;align-items:center;color:#64748b;font-size:26px;line-height:40px;white-space:nowrap"><svg width="24" height="24" viewBox="0 0 24 24" fill="none" stroke="#64748b" stroke-width="2" stroke-linecap="round" stroke-linejoin="round" style="margin-right:7px;margin-top:-2px"><line x1="18" x2="18" y1="20" y2="10"/><line x1="12" x2="12" y1="20" y2="4"/><line x1="6" x2="6" y1="20" y2="14"/></svg><span style="letter-spacing:-0.9px">$5K</span><span style="display:inline-block;width:2px;height:32px;background:#e2e2e2;margin:0 16px 0 17px;position:relative;top:-1px"></span><svg width="24" height="24" viewBox="0 0 24 24" fill="none" stroke="#64748b" stroke-width="2" stroke-linecap="round" stroke-linejoin="round" style="margin-right:9px;margin-top:-3px"><line x1="10" x2="14" y1="2" y2="2"/><line x1="12" x2="15" y1="14" y2="11"/><circle cx="12" cy="14" r="8"/></svg><span style="letter-spacing:-0.55px">2025/10/31</span></div>
<div style="position:absolute;left:43px;top:1480.10px;height:42px;line-height:42px;font-size:28px;font-weight:400;color:#334155;white-space:nowrap;">Yes</div>
<div style="position:absolute;right:1130px;top:1481.00px;height:40px;display:flex;align-items:center;color:#64748b;font-size:26px;line-height:40px;white-space:nowrap"><span style="-webkit-text-stroke:0.35px #64748b">14.5</span><span style="margin-left:5px;letter-spacing:-1px;transform:scaleX(0.82);display:inline-block;transform-origin:left">%</span><svg width="24" height="24" viewBox="0 0 24 24" fill="none" stroke="#64748b" stroke-width="1.9" stroke-linecap="round" stroke-linejoin="round" style="margin-left:16px;margin-right:6px;margin-top:-2px"><circle cx="12" cy="12" r="10"/><path d="M16 8h-6a2 2 0 1 0 0 4h4a2 2 0 1 1 0 4H8"/><path d="M12 18V6"/></svg><span style="letter-spacing:-0.8px">2K</span></div>
<div style="position:absolute;left:42px;top:1532px;width:1030px;height:8px;background:#e2e6ee;border-radius:4px;"></div>
<div style="position:absolute;left:42px;top:1532px;width:149px;height:8px;background:#3b82f6;border-radius:4px;"></div>
<div style="position:absolute;left:44px;top:1608px;width:44px;height:44px;border-radius:10px;overflow:hidden;box-shadow:0 0 0 1.5px #e6e6e6;"><svg width="44" height="44" viewBox="0 0 100 100" preserveAspectRatio="none" style="display:block"><rect width="100" height="100" fill="#dcdce2"/><polygon points="0,14 12,8 24,14 30,40 26,70 0,70" fill="#2c2624"/><polygon points="20,30 40,26 42,70 20,70" fill="#1e2a58"/><rect x="33" y="4" width="5" height="22" fill="#3050d0"/><polygon points="44,6 58,4 60,14 46,18" fill="#2a2220"/><polygon points="66,6 86,8 92,38 70,40" fill="#24242c"/><ellipse cx="55" cy="62" rx="20" ry="28" fill="#c88a6a"/><ellipse cx="55" cy="38" rx="22" ry="14" fill="#d8b888"/><polygon points="70,36 90,34 94,100 68,100" fill="#263066"/></svg></div>
<div style="position:absolute;left:107px;top:1610.10px;height:42px;line-height:42px;font-size:28px;font-weight:700;color:#1e293b;white-space:nowrap;letter-spacing:0.2px;">Nothing Ever Happens: World Leader Out Edition</div>
<div style="position:absolute;right:1130px;top:1611px;height:40px;display:flex;align-items:center;color:#64748b;font-size:26px;line-height:40px;white-space:nowrap"><svg width="24" height="24" viewBox="0 0 24 24" fill="none" stroke="#64748b" stroke-width="2" stroke-linecap="round" stroke-linejoin="round" style="margin-right:7px;margin-top:-2px"><line x1="18" x2="18" y1="20" y2="10"/><line x1="12" x2="12" y1="20" y2="4"/><line x1="6" x2="6" y1="20" y2="14"/></svg><span style="letter-spacing:-0.9px">$8K</span><span style="display:inline-block;width:2px;height:32px;background:#e2e2e2;margin:0 16px 0 17px;position:relative;top:-1px"></span><svg width="24" height="24" viewBox="0 0 24 24" fill="none" stroke="#64748b" stroke-width="2" stroke-linecap="round" stroke-linejoin="round" style="margin-right:9px;margin-top:-3px"><line x1="10" x2="14" y1="2" y2="2"/><line x1="12" x2="15" y1="14" y2="11"/><circle cx="12" cy="14" r="8"/></svg><span style="letter-spacing:-0.55px">2025/12/31</span></div>
<div style="position:absolute;left:10px;top:466px;width:1094px;height:2px;background:#e5e5e5;"></div>
<div style="position:absolute;left:10px;top:668px;width:1094px;height:2px;background:#e5e5e5;"></div>
<div style="position:absolute;left:10px;top:870px;width:1094px;height:2px;background:#e5e5e5;"></div>
<div style="position:absolute;left:10px;top:1072px;width:1094px;height:2px;background:#e5e5e5;"></div>
<div style="position:absolute;left:10px;top:1354px;width:1094px;height:2px;background:#e5e5e5;"></div>
<div style="position:absolute;left:10px;top:1572px;width:1094px;height:2px;background:#e5e5e5;"></div>
<div style="position:absolute;left:1140px;top:140px;width:76px;height:76px;border-radius:14px;overflow:hidden;box-shadow:0 0 0 1.5px #e6e6e6;"><svg width="76" height="76" viewBox="0 0 100 100" preserveAspectRatio="none" style="display:block"><defs><clipPath id="c3"><polygon points="0,100 0,82 57,46 100,18 100,100"/></clipPath></defs><rect width="100" height="100" fill="#26399a"/><polygon points="0,0 32,0 0,11" fill="#e2c048"/><polygon points="2.00,18.80 2.85,20.84 5.04,21.01 3.37,22.44 3.88,24.59 2.00,23.44 0.12,24.59 0.63,22.44 -1.04,21.01 1.15,20.84" fill="#f4f4f4"/><polygon points="13.00,14.80 13.85,16.84 16.04,17.01 14.37,18.44 14.88,20.59 13.00,19.44 11.12,20.59 11.63,18.44 9.96,17.01 12.15,16.84" fill="#f4f4f4"/><polygon points="25.00,14.80 25.85,16.84 28.04,17.01 26.37,18.44 26.88,20.59 25.00,19.44 23.12,20.59 23.63,18.44 21.96,17.01 24.15,16.84" fill="#f4f4f4"/><polygon points="38.00,21.80 38.85,23.84 41.04,24.01 39.37,25.44 39.88,27.59 38.00,26.44 36.12,27.59 36.63,25.44 34.96,24.01 37.15,23.84" fill="#f4f4f4"/><polygon points="46.00,29.80 46.85,31.84 49.04,32.01 47.37,33.44 47.88,35.59 46.00,34.44 44.12,35.59 44.63,33.44 42.96,32.01 45.15,31.84" fill="#f4f4f4"/><polygon points="0,57 100,16 100,24 57,46 0,83" fill="#c03a40"/><g clip-path="url(#c3)"><rect width="100" height="100" fill="#e6e6e8"/><g transform="rotate(-23 60 60)"><rect x="-60" y="-40.0" width="240" height="7.1" fill="#c8323a"/><rect x="-60" y="-25.8" width="240" height="7.1" fill="#c8323a"/><rect x="-60" y="-11.6" width="240" height="7.1" fill="#c8323a"/><rect x="-60" y="2.6" width="240" height="7.1" fill="#c8323a"/><rect x="-60" y="16.8" width="240" height="7.1" fill="#c8323a"/><rect x="-60" y="31.0" width="240" height="7.1" fill="#c8323a"/><rect x="-60" y="45.2" width="240" height="7.1" fill="#c8323a"/><rect x="-60" y="59.4" width="240" height="7.1" fill="#c8323a"/><rect x="-60" y="73.6" width="240" height="7.1" fill="#c8323a"/><rect x="-60" y="87.8" width="240" height="7.1" fill="#c8323a"/><rect x="-60" y="102.0" width="240" height="7.1" fill="#c8323a"/><rect x="-60" y="116.2" width="240" height="7.1" fill="#c8323a"/><rect x="-60" y="130.4" width="240" height="7.1" fill="#c8323a"/><rect x="-60" y="144.6" width="240" height="7.1" fill="#c8323a"/><rect x="-60" y="158.8" width="240" height="7.1" fill="#c8323a"/><rect x="-60" y="173.0" width="240" height="7.1" fill="#c8323a"/><rect x="-60" y="187.2" width="240" height="7.1" fill="#c8323a"/><rect x="-60" y="201.4" width="240" height="7.1" fill="#c8323a"/><rect x="-60" y="215.6" width="240" height="7.1" fill="#c8323a"/><rect x="-60" y="229.8" width="240" height="7.1" fill="#c8323a"/></g></g><polygon points="0,83 57,46 68,80 0,99" fill="#1c2150"/><polygon points="38.00,61.60 38.63,63.13 40.28,63.26 39.03,64.33 39.41,65.94 38.00,65.08 36.59,65.94 36.97,64.33 35.72,63.26 37.37,63.13" fill="#d8d8dc"/><polygon points="46.00,67.60 46.63,69.13 48.28,69.26 47.03,70.33 47.41,71.94 46.00,71.08 44.59,71.94 44.97,70.33 43.72,69.26 45.37,69.13" fill="#d8d8dc"/><polygon points="32.00,69.60 32.63,71.13 34.28,71.26 33.03,72.33 33.41,73.94 32.00,73.08 30.59,73.94 30.97,72.33 29.72,71.26 31.37,71.13" fill="#d8d8dc"/><polygon points="43.00,74.60 43.63,76.13 45.28,76.26 44.03,77.33 44.41,78.94 43.00,78.08 41.59,78.94 41.97,77.33 40.72,76.26 42.37,76.13" fill="#d8d8dc"/><polygon points="52.00,77.60 52.63,79.13 54.28,79.26 53.03,80.33 53.41,81.94 52.00,81.08 50.59,81.94 50.97,80.33 49.72,79.26 51.37,79.13" fill="#d8d8dc"/><polygon points="28.00,79.60 28.63,81.13 30.28,81.26 29.03,82.33 29.41,83.94 28.00,83.08 26.59,83.94 26.97,82.33 25.72,81.26 27.37,81.13" fill="#d8d8dc"/><polygon points="40.00,85.60 40.63,87.13 42.28,87.26 41.03,88.33 41.41,89.94 40.00,89.08 38.59,89.94 38.97,88.33 37.72,87.26 39.37,87.13" fill="#d8d8dc"/><polygon points="18.00,83.60 18.63,85.13 20.28,85.26 19.03,86.33 19.41,87.94 18.00,87.08 16.59,87.94 16.97,86.33 15.72,85.26 17.37,85.13" fill="#d8d8dc"/><polygon points="12.00,91.60 12.63,93.13 14.28,93.26 13.03,94.33 13.41,95.94 12.00,95.08 10.59,95.94 10.97,94.33 9.72,93.26 11.37,93.13" fill="#d8d8dc"/><polygon points="50.00,55.60 50.63,57.13 52.28,57.26 51.03,58.33 51.41,59.94 50.00,59.08 48.59,59.94 48.97,58.33 47.72,57.26 49.37,57.13" fill="#d8d8dc"/><polygon points="24.00,87.60 24.63,89.13 26.28,89.26 25.03,90.33 25.41,91.94 24.00,91.08 22.59,91.94 22.97,90.33 21.72,89.26 23.37,89.13" fill="#d8d8dc"/></svg></div>
<div style="position:absolute;left:1236px;top:154.71px;height:48px;line-height:48px;font-size:32px;font-weight:700;color:#0a0a0a;white-space:nowrap;">US x Venezuela military engagement by...?</div>
<div style="position:absolute;left:1138px;top:234px;height:40px;display:flex;gap:9px">
<div style="height:40px;border-radius:12px;background:#f4f4f5;padding:0 16px;display:flex;align-items:center;font-size:26px;line-height:40px;color:#475569;"><svg width="24" height="24" viewBox="0 0 24 24" fill="none" stroke="#475569" stroke-width="1.9" stroke-linecap="round" stroke-linejoin="round" style="margin-right:9px;margin-top:-1px"><line x1="3" x2="21" y1="22" y2="22"/><line x1="6" x2="6" y1="18" y2="11"/><line x1="10" x2="10" y1="18" y2="11"/><line x1="14" x2="14" y1="18" y2="11"/><line x1="18" x2="18" y1="18" y2="11"/><polygon points="12 2 20 7 4 7"/></svg><span>Politics</span></div>
<div style="height:40px;border-radius:12px;background:#f4f4f5;padding:0 16px;display:flex;align-items:center;font-size:26px;line-height:40px;color:#475569;letter-spacing:-0.3px;"><span>Venezuela</span></div>
<div style="height:40px;border-radius:12px;background:#f4f4f5;padding:0 16px;display:flex;align-items:center;font-size:26px;line-height:40px;color:#475569;"><svg width="24" height="24" viewBox="0 0 24 24" fill="none" stroke="#475569" stroke-width="1.9" stroke-linecap="round" stroke-linejoin="round" style="margin-right:9px;margin-top:-1px"><circle cx="12" cy="12" r="10"/><path d="M12 2a14.5 14.5 0 0 0 0 20 14.5 14.5 0 0 0 0-20"/><path d="M2 12h20"/></svg><span>Geopolitics</span></div>
<div style="height:40px;border-radius:12px;background:#f4f4f5;padding:0 16px;display:flex;align-items:center;font-size:26px;line-height:40px;color:#475569;"><svg width="24" height="24" viewBox="0 0 24 24" fill="none" stroke="#475569" stroke-width="1.9" stroke-linecap="round" stroke-linejoin="round" style="margin-right:9px;margin-top:-1px"><path d="M21.54 15H17a2 2 0 0 0-2 2v4.54"/><path d="M7 3.34V5a3 3 0 0 0 3 3a2 2 0 0 1 2 2c0 1.1.9 2 2 2a2 2 0 0 0 2-2c0-1.1.9-2 2-2h3.170"/><path d="M11 21.95V18a2 2 0 0 0-2-2a2 2 0 0 1-2-2v-1a2 2 0 0 0-2-2H2.05"/><circle cx="12" cy="12" r="10"/></svg><span>World</span></div>
</div>
<div style="position:absolute;left:1106px;top:306px;width:1093px;height:2px;background:#e5e5e5;"></div>
<div style="position:absolute;left:1106px;top:444px;width:1093px;height:2px;background:#e5e5e5;"></div>
<div style="position:absolute;left:1378px;top:308px;width:2px;height:136px;background:#e5e5e5;"></div>
<div style="position:absolute;left:1652px;top:308px;width:2px;height:136px;background:#e5e5e5;"></div>
<div style="position:absolute;left:1925px;top:308px;width:2px;height:136px;background:#e5e5e5;"></div>
<svg style="position:absolute;left:1130px;top:336px;" width="24" height="24" viewBox="0 0 24 24" fill="none" stroke="#737373" stroke-width="1.9" stroke-linecap="round" stroke-linejoin="round"><path d="M12 6v6l3.644 1.822"/><path d="M16 19h6"/><path d="M19 16v6"/><path d="M21.92 13.267a10 10 0 1 0-8.653 8.653"/></svg>
<div style="position:absolute;left:1163px;top:329.29px;height:39px;line-height:39px;font-size:26px;font-weight:400;color:#737373;white-space:nowrap;letter-spacing:-0.3px;">Start Date</div>
<div style="position:absolute;left:1130px;top:361.94px;height:60px;line-height:60px;font-size:40px;font-weight:700;color:#0a0a0a;white-space:nowrap;">2025/8/22</div>
<svg style="position:absolute;left:1404px;top:336px;" width="24" height="24" viewBox="0 0 24 24" fill="none" stroke="#737373" stroke-width="1.9" stroke-linecap="round" stroke-linejoin="round"><line x1="10" x2="14" y1="2" y2="2"/><line x1="12" x2="15" y1="14" y2="11"/><circle cx="12" cy="14" r="8"/></svg>
<div style="position:absolute;left:1437px;top:329.29px;height:39px;line-height:39px;font-size:26px;font-weight:400;color:#737373;white-space:nowrap;letter-spacing:-0.3px;">End Date</div>
<div style="position:absolute;left:1404px;top:361.94px;height:60px;line-height:60px;font-size:40px;font-weight:700;color:#0a0a0a;white-space:nowrap;">2025/10/31</div>
<svg style="position:absolute;left:1678px;top:336px;" width="24" height="24" viewBox="0 0 24 24" fill="none" stroke="#737373" stroke-width="1.9" stroke-linecap="round" stroke-linejoin="round"><line x1="18" x2="18" y1="20" y2="10"/><line x1="12" x2="12" y1="20" y2="4"/><line x1="6" x2="6" y1="20" y2="14"/></svg>
<div style="position:absolute;left:1711px;top:329.29px;height:39px;line-height:39px;font-size:26px;font-weight:400;color:#737373;white-space:nowrap;letter-spacing:-0.3px;">24h Volume</div>
<div style="position:absolute;left:1678px;top:361.94px;height:60px;line-height:60px;font-size:40px;font-weight:700;color:#0a0a0a;white-space:nowrap;">$117K</div>
<svg style="position:absolute;left:1951px;top:336px;" width="24" height="24" viewBox="0 0 24 24" fill="none" stroke="#737373" stroke-width="1.9" stroke-linecap="round" stroke-linejoin="round"><line x1="12" x2="12" y1="20" y2="10"/><line x1="18" x2="18" y1="20" y2="4"/><line x1="6" x2="6" y1="20" y2="16"/></svg>
<div style="position:absolute;left:1984px;top:329.29px;height:39px;line-height:39px;font-size:26px;font-weight:400;color:#737373;white-space:nowrap;letter-spacing:-0.3px;">Total Volume</div>
<div style="position:absolute;left:1951px;top:361.94px;height:60px;line-height:60px;font-size:40px;font-weight:700;color:#0a0a0a;white-space:nowrap;">$3.2M</div>
<svg style="position:absolute;left:1106px;top:446px" width="1093" height="616" viewBox="1106 446 1093 616"><path d="M1106.0,1060.5 L1106.0,899.1 L1106.4,899.1 C1107.37,897.63 1108.33,894.70 1109.3,894.7 C1110.13,894.70 1110.97,895.10 1111.8,895.1 C1113.10,895.10 1114.40,866.60 1115.7,866.6 C1117.20,866.60 1118.70,867.52 1120.2,869.1 C1121.33,870.30 1122.47,888.84 1123.6,889.2 C1124.60,889.52 1125.60,889.37 1126.6,889.7 C1127.40,889.97 1128.20,899.60 1129.0,899.6 C1130.17,899.60 1131.33,897.60 1132.5,897.6 C1134.30,897.60 1136.10,912.40 1137.9,912.4 C1139.37,912.40 1140.83,909.40 1142.3,909.4 C1143.47,909.40 1144.63,910.90 1145.8,910.9 C1147.27,910.90 1148.73,898.60 1150.2,898.6 C1151.67,898.60 1153.13,899.97 1154.6,901.1 C1155.73,901.97 1156.87,905.00 1158.0,905.0 C1159.17,905.00 1160.33,900.00 1161.5,900.0 C1162.80,900.00 1164.10,906.50 1165.4,906.5 C1166.73,906.50 1168.07,897.10 1169.4,897.1 C1170.37,897.10 1171.33,905.00 1172.3,905.0 C1173.30,905.00 1174.30,888.80 1175.3,888.8 C1176.13,888.80 1176.97,907.00 1177.8,907.0 C1179.03,907.00 1180.27,799.70 1181.5,799.7 C1182.70,799.70 1183.90,915.80 1185.1,915.8 C1186.27,915.80 1187.43,894.20 1188.6,894.2 C1190.40,894.20 1192.20,908.40 1194.0,908.4 C1196.63,908.40 1199.27,897.60 1201.9,897.6 C1203.20,897.60 1204.50,901.18 1205.8,901.5 C1206.97,901.79 1208.13,901.69 1209.3,902.0 C1210.60,902.34 1211.90,907.56 1213.2,909.9 C1214.83,912.85 1216.47,917.80 1218.1,917.8 C1219.57,917.80 1221.03,901.50 1222.5,901.5 C1223.50,901.50 1224.50,905.00 1225.5,905.0 C1227.63,905.00 1229.77,904.00 1231.9,904.0 C1233.37,904.00 1234.83,918.80 1236.3,918.8 C1237.13,918.80 1237.97,917.80 1238.8,917.8 C1240.43,917.80 1242.07,918.77 1243.7,919.8 C1244.67,920.41 1245.63,923.20 1246.6,923.2 C1249.17,923.20 1251.73,865.50 1254.3,865.5 C1255.83,865.50 1257.37,897.40 1258.9,897.4 C1260.03,897.40 1261.17,861.20 1262.3,861.2 C1263.33,861.20 1264.37,879.60 1265.4,879.6 C1266.43,879.60 1267.47,871.60 1268.5,871.6 C1269.50,871.60 1270.50,879.60 1271.5,879.6 C1273.13,879.60 1274.77,858.70 1276.4,858.7 C1278.07,858.70 1279.73,876.50 1281.4,876.5 C1283.17,876.50 1284.93,843.90 1286.7,843.9 C1288.50,843.90 1290.30,872.20 1292.1,872.2 C1293.63,872.20 1295.17,830.40 1296.7,830.4 C1297.93,830.40 1299.17,859.30 1300.4,859.3 C1301.97,859.30 1303.53,827.30 1305.1,827.3 C1306.33,827.30 1307.57,858.70 1308.8,858.7 C1309.63,858.70 1310.47,848.20 1311.3,848.2 C1311.97,848.20 1312.63,852.50 1313.3,852.5 C1314.53,852.50 1315.77,758.50 1317.0,758.5 C1318.13,758.50 1319.27,841.50 1320.4,841.5 C1321.23,841.50 1322.07,817.50 1322.9,817.5 C1324.03,817.50 1325.17,847.00 1326.3,847.0 C1327.30,847.00 1328.30,828.60 1329.3,828.6 C1330.43,828.60 1331.57,834.70 1332.7,834.7 C1334.03,834.70 1335.37,828.00 1336.7,828.0 C1337.93,828.00 1339.17,837.80 1340.4,837.8 C1341.77,837.80 1343.13,825.50 1344.5,825.5 C1346.00,825.50 1347.50,837.80 1349.0,837.8 C1350.23,837.80 1351.47,832.65 1352.7,831.6 C1353.73,830.72 1354.77,830.82 1355.8,829.8 C1357.23,828.39 1358.67,810.70 1360.1,810.7 C1361.53,810.70 1362.97,828.60 1364.4,828.6 C1365.83,828.60 1367.27,802.10 1368.7,802.1 C1369.73,802.10 1370.77,824.90 1371.8,824.9 C1373.33,824.90 1374.87,784.90 1376.4,784.9 C1377.93,784.90 1379.47,802.10 1381.0,802.1 C1383.47,802.10 1385.93,773.80 1388.4,773.8 C1389.63,773.80 1390.87,781.20 1392.1,781.2 C1393.10,781.20 1394.10,771.40 1395.1,771.4 C1396.13,771.40 1397.17,773.20 1398.2,773.2 C1399.23,773.20 1400.27,758.34 1401.3,757.2 C1401.90,756.54 1402.50,756.54 1403.1,756.0 C1404.13,755.07 1405.17,751.20 1406.2,751.2 C1407.33,751.20 1408.47,764.00 1409.6,764.0 C1411.20,764.00 1412.80,741.60 1414.4,741.6 C1415.20,741.60 1416.00,742.40 1416.8,742.4 C1418.13,742.40 1419.47,699.20 1420.8,699.2 C1421.87,699.20 1422.93,721.60 1424.0,721.6 C1425.07,721.60 1426.13,718.40 1427.2,718.4 C1427.73,718.40 1428.27,720.00 1428.8,720.0 C1429.87,720.00 1430.93,710.40 1432.0,710.4 C1433.33,710.40 1434.67,717.38 1436.0,721.6 C1436.53,723.29 1437.07,724.07 1437.6,727.2 C1438.40,731.90 1439.20,789.60 1440.0,789.6 C1441.20,789.60 1442.40,453.30 1443.6,453.3 C1445.07,453.30 1446.53,797.60 1448.0,797.6 C1449.40,797.60 1450.80,604.60 1452.2,604.6 C1453.73,604.60 1455.27,768.80 1456.8,768.8 C1457.87,768.80 1458.93,751.20 1460.0,751.2 C1462.67,751.20 1465.33,853.60 1468.0,853.6 C1469.47,853.60 1470.93,669.40 1472.4,577.3 L1472.2,577.3 L1472.2,1060.5 Z" fill="#d6e5fc"/><path d="M1473.0,1060.5 L1473.0,805.6 L1472.8,805.6 C1474.13,828.00 1475.47,872.80 1476.8,872.8 C1477.87,872.80 1478.93,868.00 1480.0,868.0 C1482.67,868.00 1485.33,868.80 1488.0,868.8 C1489.33,868.80 1490.67,865.60 1492.0,865.6 C1492.90,865.60 1493.80,881.60 1494.7,881.6 C1496.10,881.60 1497.50,763.20 1498.9,763.2 C1500.27,763.20 1501.63,853.73 1503.0,854.5 C1504.13,855.14 1505.27,854.92 1506.4,855.5 C1507.87,856.25 1509.33,867.30 1510.8,867.3 C1511.97,867.30 1513.13,865.80 1514.3,865.8 C1515.77,865.80 1517.23,866.00 1518.7,866.3 C1519.83,866.53 1520.97,868.55 1522.1,868.8 C1523.43,869.09 1524.77,868.99 1526.1,869.3 C1527.73,869.68 1529.37,882.50 1531.0,882.5 C1532.30,882.50 1533.60,880.60 1534.9,880.6 C1536.23,880.60 1537.57,886.50 1538.9,886.5 C1540.20,886.50 1541.50,880.60 1542.8,880.6 C1544.93,880.60 1547.07,882.50 1549.2,882.5 C1550.20,882.50 1551.20,879.10 1552.2,879.1 C1553.67,879.10 1555.13,902.20 1556.6,902.2 C1557.57,902.20 1558.53,886.21 1559.5,885.5 C1560.33,884.89 1561.17,885.09 1562.0,884.5 C1563.17,883.67 1564.33,864.30 1565.5,864.3 C1567.77,864.30 1570.03,869.70 1572.3,869.7 C1573.97,869.70 1575.63,860.90 1577.3,860.9 C1579.60,860.90 1581.90,861.90 1584.2,861.9 C1585.50,861.90 1586.80,853.50 1588.1,853.5 C1589.57,853.50 1591.03,857.00 1592.5,857.0 C1594.00,857.00 1595.50,855.09 1597.0,853.5 C1598.13,852.30 1599.27,848.86 1600.4,848.1 C1602.03,847.00 1603.67,846.47 1605.3,846.1 C1606.30,845.87 1607.30,845.90 1608.3,845.6 C1609.43,845.26 1610.57,840.20 1611.7,840.2 C1612.70,840.20 1613.70,840.70 1614.7,840.7 C1616.33,840.70 1617.97,835.80 1619.6,835.8 C1620.40,835.80 1621.20,835.80 1622.0,835.8 C1623.17,835.80 1624.33,832.80 1625.5,832.8 C1626.63,832.80 1627.77,832.80 1628.9,832.8 C1629.73,832.80 1630.57,827.90 1631.4,827.9 C1632.70,827.90 1634.00,831.40 1635.3,831.4 C1636.63,831.40 1637.97,826.40 1639.3,826.4 C1640.60,826.40 1641.90,850.60 1643.2,850.6 C1644.37,850.60 1645.53,848.10 1646.7,848.1 C1648.00,848.10 1649.30,848.10 1650.6,848.1 C1651.57,848.10 1652.53,849.60 1653.5,849.6 C1654.33,849.60 1655.17,847.26 1656.0,844.6 C1657.30,840.45 1658.60,807.54 1659.9,804.3 C1661.73,799.74 1663.57,796.90 1665.4,796.9 C1666.70,796.90 1668.00,807.17 1669.3,808.7 C1670.37,809.96 1671.43,809.99 1672.5,811.1 C1673.80,812.45 1675.10,818.00 1676.4,818.0 C1677.53,818.00 1678.67,812.50 1679.8,812.5 C1681.13,812.50 1682.47,825.80 1683.8,825.8 C1684.93,825.80 1686.07,822.68 1687.2,822.4 C1688.37,822.11 1689.53,821.90 1690.7,821.9 C1691.67,821.90 1692.63,825.30 1693.6,825.3 C1695.23,825.30 1696.87,795.30 1698.5,795.3 C1700.00,795.30 1701.50,810.88 1703.0,812.0 C1704.63,813.22 1706.27,814.00 1707.9,814.0 C1709.37,814.00 1710.83,793.80 1712.3,793.8 C1713.30,793.80 1714.30,796.80 1715.3,796.8 C1717.27,796.80 1719.23,773.70 1721.2,773.7 C1722.50,773.70 1723.80,776.81 1725.1,778.1 C1726.57,779.56 1728.03,782.00 1729.5,782.0 C1731.97,782.00 1734.43,781.50 1736.9,781.5 C1738.57,781.50 1740.23,785.00 1741.9,785.0 C1743.87,785.00 1745.83,784.00 1747.8,784.0 C1749.27,784.00 1750.73,785.00 1752.2,785.0 C1754.33,785.00 1756.47,756.40 1758.6,756.4 C1760.23,756.40 1761.87,766.30 1763.5,766.3 C1765.30,766.30 1767.10,765.46 1768.9,763.8 C1770.37,762.45 1771.83,706.70 1773.3,706.7 C1774.80,706.70 1776.30,729.90 1777.8,729.9 C1778.93,729.90 1780.07,725.40 1781.2,725.4 C1782.53,725.40 1783.87,737.37 1785.2,737.7 C1786.50,738.02 1787.80,737.92 1789.1,738.2 C1791.07,738.62 1793.03,742.59 1795.0,743.1 C1796.00,743.36 1797.00,743.34 1798.0,743.6 C1799.30,743.94 1800.60,746.10 1801.9,746.1 C1802.73,746.10 1803.57,746.10 1804.4,746.1 C1805.37,746.10 1806.33,750.21 1807.3,750.5 C1808.30,750.80 1809.30,750.69 1810.3,751.0 C1811.27,751.30 1812.23,757.90 1813.2,757.9 C1814.03,757.90 1814.87,757.90 1815.7,757.9 C1816.67,757.90 1817.63,771.20 1818.6,771.2 C1819.93,771.20 1821.27,754.00 1822.6,754.0 C1824.40,754.00 1826.20,792.90 1828.0,792.9 C1829.30,792.90 1830.60,786.00 1831.9,786.0 C1833.37,786.00 1834.83,799.70 1836.3,799.7 C1837.63,799.70 1838.97,794.06 1840.3,791.4 C1841.87,788.28 1843.43,782.40 1845.0,782.4 C1846.17,782.40 1847.33,786.70 1848.5,786.7 C1849.90,786.70 1851.30,771.10 1852.7,771.1 C1853.90,771.10 1855.10,781.00 1856.3,781.0 C1857.47,781.00 1858.63,776.80 1859.8,776.8 C1860.73,776.80 1861.67,781.70 1862.6,781.7 C1863.33,781.70 1864.07,781.70 1864.8,781.7 C1865.73,781.70 1866.67,786.70 1867.6,786.7 C1868.53,786.70 1869.47,783.20 1870.4,783.2 C1871.60,783.20 1872.80,802.20 1874.0,802.2 C1874.93,802.20 1875.87,796.60 1876.8,796.6 C1878.43,796.60 1880.07,805.10 1881.7,805.1 C1883.37,805.10 1885.03,796.34 1886.7,793.8 C1888.80,790.60 1890.90,786.70 1893.0,786.7 C1894.90,786.70 1896.80,802.20 1898.7,802.2 C1899.63,802.20 1900.57,798.00 1901.5,798.0 C1902.47,798.00 1903.43,820.60 1904.4,820.6 C1905.67,820.60 1906.93,679.20 1908.2,679.2 C1909.50,679.20 1910.80,844.00 1912.1,844.0 C1913.30,844.00 1914.50,834.10 1915.7,834.1 C1917.10,834.10 1918.50,856.70 1919.9,856.7 C1921.57,856.70 1923.23,852.50 1924.9,852.5 C1926.77,852.50 1928.63,857.09 1930.5,858.1 C1932.40,859.12 1934.30,860.20 1936.2,860.2 C1937.37,860.20 1938.53,858.10 1939.7,858.1 C1941.60,858.10 1943.50,894.20 1945.4,894.2 C1946.40,894.20 1947.40,882.87 1948.4,877.2 L1948.3,877.2 L1948.3,1060.5 Z" fill="#b5cbf9"/><path d="M1952.0,1060.5 L1952.0,941.6 L1952.0,941.6 C1952.57,941.10 1953.13,940.93 1953.7,940.1 C1954.90,938.35 1956.10,909.50 1957.3,909.5 C1958.30,909.50 1959.30,920.20 1960.3,923.5 C1961.17,926.36 1962.03,926.73 1962.9,930.2 C1963.87,934.07 1964.83,957.50 1965.8,957.5 C1966.67,957.50 1967.53,956.00 1968.4,956.0 C1969.50,956.00 1970.60,960.80 1971.7,960.8 C1973.20,960.80 1974.70,954.50 1976.2,954.5 C1977.30,954.50 1978.40,961.20 1979.5,961.2 C1980.47,961.20 1981.43,954.50 1982.4,954.5 C1983.77,954.50 1985.13,984.80 1986.5,984.8 C1987.97,984.80 1989.43,969.30 1990.9,969.3 C1991.90,969.30 1992.90,969.93 1993.9,970.8 C1995.00,971.75 1996.10,982.60 1997.2,982.6 C1998.30,982.60 1999.40,956.00 2000.5,956.0 C2001.87,956.00 2003.23,973.70 2004.6,973.7 C2005.93,973.70 2007.27,966.54 2008.6,966.3 C2009.60,966.12 2010.60,966.17 2011.6,966.0 C2012.57,965.83 2013.53,964.10 2014.5,964.1 C2016.10,964.10 2017.70,970.80 2019.3,970.8 C2020.67,970.80 2022.03,959.00 2023.4,959.0 C2024.63,959.00 2025.87,967.80 2027.1,967.8 C2029.30,967.80 2031.50,966.30 2033.7,966.3 C2035.07,966.30 2036.43,981.50 2037.8,981.5 C2038.67,981.50 2039.53,971.90 2040.4,971.9 C2041.37,971.90 2042.33,981.80 2043.3,981.8 C2044.40,981.80 2045.50,961.50 2046.6,961.5 C2047.47,961.50 2048.33,972.60 2049.2,972.6 C2050.43,972.60 2051.67,925.80 2052.9,925.8 C2054.00,925.80 2055.10,943.50 2056.2,943.5 C2057.80,943.50 2059.40,928.00 2061.0,928.0 C2062.23,928.00 2063.47,931.70 2064.7,931.7 C2066.30,931.70 2067.90,904.70 2069.5,904.7 C2070.57,904.70 2071.63,936.80 2072.7,937.8 C2074.73,939.71 2076.77,940.50 2078.8,940.5 C2080.83,940.50 2082.87,911.40 2084.9,911.4 C2087.37,911.40 2089.83,947.30 2092.3,947.3 C2093.43,947.30 2094.57,943.90 2095.7,943.9 C2097.27,943.90 2098.83,951.30 2100.4,951.3 C2101.77,951.30 2103.13,931.00 2104.5,931.0 C2105.87,931.00 2107.23,952.70 2108.6,952.7 C2109.93,952.70 2111.27,940.50 2112.6,940.5 C2113.97,940.50 2115.33,951.30 2116.7,951.3 C2118.03,951.30 2119.37,944.60 2120.7,944.6 C2121.83,944.60 2122.97,951.30 2124.1,951.3 C2125.90,951.30 2127.70,929.00 2129.5,929.0 C2130.63,929.00 2131.77,941.20 2132.9,941.2 C2134.50,941.20 2136.10,901.90 2137.7,901.9 C2139.03,901.90 2140.37,922.20 2141.7,922.2 C2143.50,922.20 2145.30,889.10 2147.1,889.1 C2148.47,889.10 2149.83,919.50 2151.2,919.5 C2152.33,919.50 2153.47,914.80 2154.6,914.8 C2155.27,914.80 2155.93,914.80 2156.6,914.8 C2158.87,914.80 2161.13,897.90 2163.4,897.9 C2164.53,897.90 2165.67,922.90 2166.8,922.9 C2168.13,922.90 2169.47,780.80 2170.8,780.8 C2171.93,780.80 2173.07,876.20 2174.2,876.2 C2174.87,876.20 2175.53,868.80 2176.2,868.8 C2177.10,868.80 2178.00,878.30 2178.9,878.3 C2179.80,878.30 2180.70,864.00 2181.6,864.0 C2182.97,864.00 2184.33,894.75 2185.7,899.9 C2186.60,903.29 2187.50,904.04 2188.4,906.7 C2189.97,911.34 2191.53,915.34 2193.1,924.3 C2194.47,932.12 2195.83,970.95 2197.2,971.6 C2198.10,972.03 2199.00,972.07 2199.9,972.3 L2199.0,972.3 L2199.0,1060.5 Z" fill="#e9edfc"/><polygon points="1178.3,1060.5 1181.5,965 1184.7,1060.5" fill="#fff"/><polygon points="1313.8999999999999,1060.5 1317.1,972 1320.3,1060.5" fill="#fff"/><polygon points="1450.0,1060.5 1452.6,920 1455.1999999999998,1060.5" fill="#fff"/><polygon points="1904.8999999999999,1060.5 1908.1,936 1911.3,1060.5" fill="#fff"/><polygon points="1441.6,1060.5 1443.2,700 1444.6,700 1446.3,1060.5" fill="#fff"/><polygon points="1470.2,1060.5 1472.2,800 1472.9,800 1474.8,1060.5" fill="#fff"/><line x1="1106" x2="2199" y1="600.5" y2="600.5" stroke="rgba(0,0,0,0.06)" stroke-width="1.2"/><line x1="1106" x2="2199" y1="753.5" y2="753.5" stroke="rgba(0,0,0,0.06)" stroke-width="1.2"/><line x1="1106" x2="2199" y1="907.5" y2="907.5" stroke="rgba(0,0,0,0.06)" stroke-width="1.2"/><path d="M1106.4,899.1 C1107.37,897.63 1108.33,894.70 1109.3,894.7 C1110.13,894.70 1110.97,895.10 1111.8,895.1 C1113.10,895.10 1114.40,866.60 1115.7,866.6 C1117.20,866.60 1118.70,867.52 1120.2,869.1 C1121.33,870.30 1122.47,888.84 1123.6,889.2 C1124.60,889.52 1125.60,889.37 1126.6,889.7 C1127.40,889.97 1128.20,899.60 1129.0,899.6 C1130.17,899.60 1131.33,897.60 1132.5,897.6 C1134.30,897.60 1136.10,912.40 1137.9,912.4 C1139.37,912.40 1140.83,909.40 1142.3,909.4 C1143.47,909.40 1144.63,910.90 1145.8,910.9 C1147.27,910.90 1148.73,898.60 1150.2,898.6 C1151.67,898.60 1153.13,899.97 1154.6,901.1 C1155.73,901.97 1156.87,905.00 1158.0,905.0 C1159.17,905.00 1160.33,900.00 1161.5,900.0 C1162.80,900.00 1164.10,906.50 1165.4,906.5 C1166.73,906.50 1168.07,897.10 1169.4,897.1 C1170.37,897.10 1171.33,905.00 1172.3,905.0 C1173.30,905.00 1174.30,888.80 1175.3,888.8 C1176.13,888.80 1176.97,907.00 1177.8,907.0 C1179.03,907.00 1180.27,799.70 1181.5,799.7 C1182.70,799.70 1183.90,915.80 1185.1,915.8 C1186.27,915.80 1187.43,894.20 1188.6,894.2 C1190.40,894.20 1192.20,908.40 1194.0,908.4 C1196.63,908.40 1199.27,897.60 1201.9,897.6 C1203.20,897.60 1204.50,901.18 1205.8,901.5 C1206.97,901.79 1208.13,901.69 1209.3,902.0 C1210.60,902.34 1211.90,907.56 1213.2,909.9 C1214.83,912.85 1216.47,917.80 1218.1,917.8 C1219.57,917.80 1221.03,901.50 1222.5,901.5 C1223.50,901.50 1224.50,905.00 1225.5,905.0 C1227.63,905.00 1229.77,904.00 1231.9,904.0 C1233.37,904.00 1234.83,918.80 1236.3,918.8 C1237.13,918.80 1237.97,917.80 1238.8,917.8 C1240.43,917.80 1242.07,918.77 1243.7,919.8 C1244.67,920.41 1245.63,923.20 1246.6,923.2 C1249.17,923.20 1251.73,865.50 1254.3,865.5 C1255.83,865.50 1257.37,897.40 1258.9,897.4 C1260.03,897.40 1261.17,861.20 1262.3,861.2 C1263.33,861.20 1264.37,879.60 1265.4,879.6 C1266.43,879.60 1267.47,871.60 1268.5,871.6 C1269.50,871.60 1270.50,879.60 1271.5,879.6 C1273.13,879.60 1274.77,858.70 1276.4,858.7 C1278.07,858.70 1279.73,876.50 1281.4,876.5 C1283.17,876.50 1284.93,843.90 1286.7,843.9 C1288.50,843.90 1290.30,872.20 1292.1,872.2 C1293.63,872.20 1295.17,830.40 1296.7,830.4 C1297.93,830.40 1299.17,859.30 1300.4,859.3 C1301.97,859.30 1303.53,827.30 1305.1,827.3 C1306.33,827.30 1307.57,858.70 1308.8,858.7 C1309.63,858.70 1310.47,848.20 1311.3,848.2 C1311.97,848.20 1312.63,852.50 1313.3,852.5 C1314.53,852.50 1315.77,758.50 1317.0,758.5 C1318.13,758.50 1319.27,841.50 1320.4,841.5 C1321.23,841.50 1322.07,817.50 1322.9,817.5 C1324.03,817.50 1325.17,847.00 1326.3,847.0 C1327.30,847.00 1328.30,828.60 1329.3,828.6 C1330.43,828.60 1331.57,834.70 1332.7,834.7 C1334.03,834.70 1335.37,828.00 1336.7,828.0 C1337.93,828.00 1339.17,837.80 1340.4,837.8 C1341.77,837.80 1343.13,825.50 1344.5,825.5 C1346.00,825.50 1347.50,837.80 1349.0,837.8 C1350.23,837.80 1351.47,832.65 1352.7,831.6 C1353.73,830.72 1354.77,830.82 1355.8,829.8 C1357.23,828.39 1358.67,810.70 1360.1,810.7 C1361.53,810.70 1362.97,828.60 1364.4,828.6 C1365.83,828.60 1367.27,802.10 1368.7,802.1 C1369.73,802.10 1370.77,824.90 1371.8,824.9 C1373.33,824.90 1374.87,784.90 1376.4,784.9 C1377.93,784.90 1379.47,802.10 1381.0,802.1 C1383.47,802.10 1385.93,773.80 1388.4,773.8 C1389.63,773.80 1390.87,781.20 1392.1,781.2 C1393.10,781.20 1394.10,771.40 1395.1,771.4 C1396.13,771.40 1397.17,773.20 1398.2,773.2 C1399.23,773.20 1400.27,758.34 1401.3,757.2 C1401.90,756.54 1402.50,756.54 1403.1,756.0 C1404.13,755.07 1405.17,751.20 1406.2,751.2 C1407.33,751.20 1408.47,764.00 1409.6,764.0 C1411.20,764.00 1412.80,741.60 1414.4,741.6 C1415.20,741.60 1416.00,742.40 1416.8,742.4 C1418.13,742.40 1419.47,699.20 1420.8,699.2 C1421.87,699.20 1422.93,721.60 1424.0,721.6 C1425.07,721.60 1426.13,718.40 1427.2,718.4 C1427.73,718.40 1428.27,720.00 1428.8,720.0 C1429.87,720.00 1430.93,710.40 1432.0,710.4 C1433.33,710.40 1434.67,717.38 1436.0,721.6 C1436.53,723.29 1437.07,724.07 1437.6,727.2 C1438.40,731.90 1439.20,789.60 1440.0,789.6 C1441.20,789.60 1442.40,453.30 1443.6,453.3 C1445.07,453.30 1446.53,797.60 1448.0,797.6 C1449.40,797.60 1450.80,604.60 1452.2,604.6 C1453.73,604.60 1455.27,768.80 1456.8,768.8 C1457.87,768.80 1458.93,751.20 1460.0,751.2 C1462.67,751.20 1465.33,853.60 1468.0,853.6 C1469.47,853.60 1470.93,669.40 1472.4,577.3" fill="none" stroke="#93c0f8" stroke-width="2.6" stroke-linejoin="round" stroke-linecap="round"/><path d="M1472.8,805.6 C1474.13,828.00 1475.47,872.80 1476.8,872.8 C1477.87,872.80 1478.93,868.00 1480.0,868.0 C1482.67,868.00 1485.33,868.80 1488.0,868.8 C1489.33,868.80 1490.67,865.60 1492.0,865.6 C1492.90,865.60 1493.80,881.60 1494.7,881.6 C1496.10,881.60 1497.50,763.20 1498.9,763.2 C1500.27,763.20 1501.63,853.73 1503.0,854.5 C1504.13,855.14 1505.27,854.92 1506.4,855.5 C1507.87,856.25 1509.33,867.30 1510.8,867.3 C1511.97,867.30 1513.13,865.80 1514.3,865.8 C1515.77,865.80 1517.23,866.00 1518.7,866.3 C1519.83,866.53 1520.97,868.55 1522.1,868.8 C1523.43,869.09 1524.77,868.99 1526.1,869.3 C1527.73,869.68 1529.37,882.50 1531.0,882.5 C1532.30,882.50 1533.60,880.60 1534.9,880.6 C1536.23,880.60 1537.57,886.50 1538.9,886.5 C1540.20,886.50 1541.50,880.60 1542.8,880.6 C1544.93,880.60 1547.07,882.50 1549.2,882.5 C1550.20,882.50 1551.20,879.10 1552.2,879.1 C1553.67,879.10 1555.13,902.20 1556.6,902.2 C1557.57,902.20 1558.53,886.21 1559.5,885.5 C1560.33,884.89 1561.17,885.09 1562.0,884.5 C1563.17,883.67 1564.33,864.30 1565.5,864.3 C1567.77,864.30 1570.03,869.70 1572.3,869.7 C1573.97,869.70 1575.63,860.90 1577.3,860.9 C1579.60,860.90 1581.90,861.90 1584.2,861.9 C1585.50,861.90 1586.80,853.50 1588.1,853.5 C1589.57,853.50 1591.03,857.00 1592.5,857.0 C1594.00,857.00 1595.50,855.09 1597.0,853.5 C1598.13,852.30 1599.27,848.86 1600.4,848.1 C1602.03,847.00 1603.67,846.47 1605.3,846.1 C1606.30,845.87 1607.30,845.90 1608.3,845.6 C1609.43,845.26 1610.57,840.20 1611.7,840.2 C1612.70,840.20 1613.70,840.70 1614.7,840.7 C1616.33,840.70 1617.97,835.80 1619.6,835.8 C1620.40,835.80 1621.20,835.80 1622.0,835.8 C1623.17,835.80 1624.33,832.80 1625.5,832.8 C1626.63,832.80 1627.77,832.80 1628.9,832.8 C1629.73,832.80 1630.57,827.90 1631.4,827.9 C1632.70,827.90 1634.00,831.40 1635.3,831.4 C1636.63,831.40 1637.97,826.40 1639.3,826.4 C1640.60,826.40 1641.90,850.60 1643.2,850.6 C1644.37,850.60 1645.53,848.10 1646.7,848.1 C1648.00,848.10 1649.30,848.10 1650.6,848.1 C1651.57,848.10 1652.53,849.60 1653.5,849.6 C1654.33,849.60 1655.17,847.26 1656.0,844.6 C1657.30,840.45 1658.60,807.54 1659.9,804.3 C1661.73,799.74 1663.57,796.90 1665.4,796.9 C1666.70,796.90 1668.00,807.17 1669.3,808.7 C1670.37,809.96 1671.43,809.99 1672.5,811.1 C1673.80,812.45 1675.10,818.00 1676.4,818.0 C1677.53,818.00 1678.67,812.50 1679.8,812.5 C1681.13,812.50 1682.47,825.80 1683.8,825.8 C1684.93,825.80 1686.07,822.68 1687.2,822.4 C1688.37,822.11 1689.53,821.90 1690.7,821.9 C1691.67,821.90 1692.63,825.30 1693.6,825.3 C1695.23,825.30 1696.87,795.30 1698.5,795.3 C1700.00,795.30 1701.50,810.88 1703.0,812.0 C1704.63,813.22 1706.27,814.00 1707.9,814.0 C1709.37,814.00 1710.83,793.80 1712.3,793.8 C1713.30,793.80 1714.30,796.80 1715.3,796.8 C1717.27,796.80 1719.23,773.70 1721.2,773.7 C1722.50,773.70 1723.80,776.81 1725.1,778.1 C1726.57,779.56 1728.03,782.00 1729.5,782.0 C1731.97,782.00 1734.43,781.50 1736.9,781.5 C1738.57,781.50 1740.23,785.00 1741.9,785.0 C1743.87,785.00 1745.83,784.00 1747.8,784.0 C1749.27,784.00 1750.73,785.00 1752.2,785.0 C1754.33,785.00 1756.47,756.40 1758.6,756.4 C1760.23,756.40 1761.87,766.30 1763.5,766.3 C1765.30,766.30 1767.10,765.46 1768.9,763.8 C1770.37,762.45 1771.83,706.70 1773.3,706.7 C1774.80,706.70 1776.30,729.90 1777.8,729.9 C1778.93,729.90 1780.07,725.40 1781.2,725.4 C1782.53,725.40 1783.87,737.37 1785.2,737.7 C1786.50,738.02 1787.80,737.92 1789.1,738.2 C1791.07,738.62 1793.03,742.59 1795.0,743.1 C1796.00,743.36 1797.00,743.34 1798.0,743.6 C1799.30,743.94 1800.60,746.10 1801.9,746.1 C1802.73,746.10 1803.57,746.10 1804.4,746.1 C1805.37,746.10 1806.33,750.21 1807.3,750.5 C1808.30,750.80 1809.30,750.69 1810.3,751.0 C1811.27,751.30 1812.23,757.90 1813.2,757.9 C1814.03,757.90 1814.87,757.90 1815.7,757.9 C1816.67,757.90 1817.63,771.20 1818.6,771.2 C1819.93,771.20 1821.27,754.00 1822.6,754.0 C1824.40,754.00 1826.20,792.90 1828.0,792.9 C1829.30,792.90 1830.60,786.00 1831.9,786.0 C1833.37,786.00 1834.83,799.70 1836.3,799.7 C1837.63,799.70 1838.97,794.06 1840.3,791.4 C1841.87,788.28 1843.43,782.40 1845.0,782.4 C1846.17,782.40 1847.33,786.70 1848.5,786.7 C1849.90,786.70 1851.30,771.10 1852.7,771.1 C1853.90,771.10 1855.10,781.00 1856.3,781.0 C1857.47,781.00 1858.63,776.80 1859.8,776.8 C1860.73,776.80 1861.67,781.70 1862.6,781.7 C1863.33,781.70 1864.07,781.70 1864.8,781.7 C1865.73,781.70 1866.67,786.70 1867.6,786.7 C1868.53,786.70 1869.47,783.20 1870.4,783.2 C1871.60,783.20 1872.80,802.20 1874.0,802.2 C1874.93,802.20 1875.87,796.60 1876.8,796.6 C1878.43,796.60 1880.07,805.10 1881.7,805.1 C1883.37,805.10 1885.03,796.34 1886.7,793.8 C1888.80,790.60 1890.90,786.70 1893.0,786.7 C1894.90,786.70 1896.80,802.20 1898.7,802.2 C1899.63,802.20 1900.57,798.00 1901.5,798.0 C1902.47,798.00 1903.43,820.60 1904.4,820.6 C1905.67,820.60 1906.93,679.20 1908.2,679.2 C1909.50,679.20 1910.80,844.00 1912.1,844.0 C1913.30,844.00 1914.50,834.10 1915.7,834.1 C1917.10,834.10 1918.50,856.70 1919.9,856.7 C1921.57,856.70 1923.23,852.50 1924.9,852.5 C1926.77,852.50 1928.63,857.09 1930.5,858.1 C1932.40,859.12 1934.30,860.20 1936.2,860.2 C1937.37,860.20 1938.53,858.10 1939.7,858.1 C1941.60,858.10 1943.50,894.20 1945.4,894.2 C1946.40,894.20 1947.40,882.87 1948.4,877.2" fill="none" stroke="#3a70ec" stroke-width="2.6" stroke-linejoin="round" stroke-linecap="round"/><path d="M1952.0,941.6 C1952.57,941.10 1953.13,940.93 1953.7,940.1 C1954.90,938.35 1956.10,909.50 1957.3,909.5 C1958.30,909.50 1959.30,920.20 1960.3,923.5 C1961.17,926.36 1962.03,926.73 1962.9,930.2 C1963.87,934.07 1964.83,957.50 1965.8,957.5 C1966.67,957.50 1967.53,956.00 1968.4,956.0 C1969.50,956.00 1970.60,960.80 1971.7,960.8 C1973.20,960.80 1974.70,954.50 1976.2,954.5 C1977.30,954.50 1978.40,961.20 1979.5,961.2 C1980.47,961.20 1981.43,954.50 1982.4,954.5 C1983.77,954.50 1985.13,984.80 1986.5,984.8 C1987.97,984.80 1989.43,969.30 1990.9,969.3 C1991.90,969.30 1992.90,969.93 1993.9,970.8 C1995.00,971.75 1996.10,982.60 1997.2,982.6 C1998.30,982.60 1999.40,956.00 2000.5,956.0 C2001.87,956.00 2003.23,973.70 2004.6,973.7 C2005.93,973.70 2007.27,966.54 2008.6,966.3 C2009.60,966.12 2010.60,966.17 2011.6,966.0 C2012.57,965.83 2013.53,964.10 2014.5,964.1 C2016.10,964.10 2017.70,970.80 2019.3,970.8 C2020.67,970.80 2022.03,959.00 2023.4,959.0 C2024.63,959.00 2025.87,967.80 2027.1,967.8 C2029.30,967.80 2031.50,966.30 2033.7,966.3 C2035.07,966.30 2036.43,981.50 2037.8,981.5 C2038.67,981.50 2039.53,971.90 2040.4,971.9 C2041.37,971.90 2042.33,981.80 2043.3,981.8 C2044.40,981.80 2045.50,961.50 2046.6,961.5 C2047.47,961.50 2048.33,972.60 2049.2,972.6 C2050.43,972.60 2051.67,925.80 2052.9,925.8 C2054.00,925.80 2055.10,943.50 2056.2,943.5 C2057.80,943.50 2059.40,928.00 2061.0,928.0 C2062.23,928.00 2063.47,931.70 2064.7,931.7 C2066.30,931.70 2067.90,904.70 2069.5,904.7 C2070.57,904.70 2071.63,936.80 2072.7,937.8 C2074.73,939.71 2076.77,940.50 2078.8,940.5 C2080.83,940.50 2082.87,911.40 2084.9,911.4 C2087.37,911.40 2089.83,947.30 2092.3,947.3 C2093.43,947.30 2094.57,943.90 2095.7,943.9 C2097.27,943.90 2098.83,951.30 2100.4,951.3 C2101.77,951.30 2103.13,931.00 2104.5,931.0 C2105.87,931.00 2107.23,952.70 2108.6,952.7 C2109.93,952.70 2111.27,940.50 2112.6,940.5 C2113.97,940.50 2115.33,951.30 2116.7,951.3 C2118.03,951.30 2119.37,944.60 2120.7,944.6 C2121.83,944.60 2122.97,951.30 2124.1,951.3 C2125.90,951.30 2127.70,929.00 2129.5,929.0 C2130.63,929.00 2131.77,941.20 2132.9,941.2 C2134.50,941.20 2136.10,901.90 2137.7,901.9 C2139.03,901.90 2140.37,922.20 2141.7,922.2 C2143.50,922.20 2145.30,889.10 2147.1,889.1 C2148.47,889.10 2149.83,919.50 2151.2,919.5 C2152.33,919.50 2153.47,914.80 2154.6,914.8 C2155.27,914.80 2155.93,914.80 2156.6,914.8 C2158.87,914.80 2161.13,897.90 2163.4,897.9 C2164.53,897.90 2165.67,922.90 2166.8,922.9 C2168.13,922.90 2169.47,780.80 2170.8,780.8 C2171.93,780.80 2173.07,876.20 2174.2,876.2 C2174.87,876.20 2175.53,868.80 2176.2,868.8 C2177.10,868.80 2178.00,878.30 2178.9,878.3 C2179.80,878.30 2180.70,864.00 2181.6,864.0 C2182.97,864.00 2184.33,894.75 2185.7,899.9 C2186.60,903.29 2187.50,904.04 2188.4,906.7 C2189.97,911.34 2191.53,915.34 2193.1,924.3 C2194.47,932.12 2195.83,970.95 2197.2,971.6 C2198.10,972.03 2199.00,972.07 2199.9,972.3" fill="none" stroke="#2f5ff0" stroke-width="2.6" stroke-linejoin="round" stroke-linecap="round"/></svg>
<div style="position:absolute;left:1140px;top:1095.21px;height:48px;line-height:48px;font-size:32px;font-weight:700;color:#0a0a0a;white-space:nowrap;">Markets</div>
<div style="position:absolute;left:1139px;top:1168.80px;height:40px;display:flex;align-items:center;color:#334155;font-size:28px;line-height:40px;white-space:nowrap"><span style="letter-spacing:0.3px">December 31</span><svg width="24" height="24" viewBox="0 0 24 24" fill="none" stroke="#334155" stroke-width="1.8" stroke-linecap="round" stroke-linejoin="round" style="margin-left:7px;margin-top:1px"><circle cx="12" cy="12" r="10"/><path d="M9.09 9a3 3 0 0 1 5.83 1c0 2-3 3-3 3"/><path d="M12 17h.01"/></svg><svg width="24" height="24" viewBox="0 0 24 24" fill="none" stroke="#334155" stroke-width="1.8" stroke-linecap="round" stroke-linejoin="round" style="margin-left:8px;margin-top:1px"><path d="M12 8V4H8"/><rect width="16" height="12" x="4" y="8" rx="2"/><path d="M2 14h2"/><path d="M20 14h2"/><path d="M15 13v2"/><path d="M9 13v2"/></svg></div>
<div style="position:absolute;right:35px;top:1169.50px;height:40px;display:flex;align-items:center;color:#64748b;font-size:26px;line-height:40px;white-space:nowrap"><svg width="24" height="24" viewBox="0 0 24 24" fill="none" stroke="#64748b" stroke-width="1.9" stroke-linecap="round" stroke-linejoin="round" style="margin-left:0px;margin-right:8px;margin-top:-2px"><line x1="18" x2="18" y1="20" y2="10"/><line x1="12" x2="12" y1="20" y2="4"/><line x1="6" x2="6" y1="20" y2="14"/></svg><span style="letter-spacing:-0.3px">$29K</span><svg width="24" height="24" viewBox="0 0 24 24" fill="none" stroke="#64748b" stroke-width="1.9" stroke-linecap="round" stroke-linejoin="round" style="margin-left:17px;margin-right:9px;margin-top:-2px"><line x1="12" x2="12" y1="20" y2="10"/><line x1="18" x2="18" y1="20" y2="4"/><line x1="6" x2="6" y1="20" y2="16"/></svg><span style="letter-spacing:-0.3px">$503K</span><svg width="24" height="24" viewBox="0 0 24 24" fill="none" stroke="#64748b" stroke-width="1.9" stroke-linecap="round" stroke-linejoin="round" style="margin-left:17px;margin-right:7px;margin-top:-2px"><circle cx="12" cy="12" r="10"/><path d="M16 8h-6a2 2 0 1 0 0 4h4a2 2 0 1 1 0 4H8"/><path d="M12 18V6"/></svg><span style="letter-spacing:-1px">17K</span></div>
<div style="position:absolute;left:1138px;top:1213.5px;width:454px;height:59px;box-sizing:border-box;border:2px solid #e2e2e2;border-radius:12px;display:flex;align-items:center;justify-content:center;color:#334155;font-size:28px;white-space:nowrap"><span style="-webkit-text-stroke:0.7px #334155;position:relative;top:0px">Yes</span><span style="display:inline-block;width:2px;height:32px;background:#e2e2e2;margin:0 17px"></span><span style="-webkit-text-stroke:0.7px #334155;letter-spacing:0.5px;font-size:29px">44.50¢</span></div>
<div style="position:absolute;left:1601px;top:1213.5px;width:566px;height:59px;box-sizing:border-box;border:2px solid #e2e2e2;border-radius:12px;display:flex;align-items:center;justify-content:center;color:#334155;font-size:28px;white-space:nowrap"><span style="-webkit-text-stroke:0.7px #334155;position:relative;top:0px">No</span><span style="display:inline-block;width:2px;height:32px;background:#e2e2e2;margin:0 17px"></span><span style="-webkit-text-stroke:0.7px #334155;letter-spacing:0.5px;font-size:29px">55.50¢</span></div>
<div style="position:absolute;left:1139px;top:1292.80px;height:40px;display:flex;align-items:center;color:#334155;font-size:28px;line-height:40px;white-space:nowrap"><span style="letter-spacing:0.3px">November 30</span><svg width="24" height="24" viewBox="0 0 24 24" fill="none" stroke="#334155" stroke-width="1.8" stroke-linecap="round" stroke-linejoin="round" style="margin-left:7px;margin-top:1px"><circle cx="12" cy="12" r="10"/><path d="M9.09 9a3 3 0 0 1 5.83 1c0 2-3 3-3 3"/><path d="M12 17h.01"/></svg><svg width="24" height="24" viewBox="0 0 24 24" fill="none" stroke="#334155" stroke-width="1.8" stroke-linecap="round" stroke-linejoin="round" style="margin-left:8px;margin-top:1px"><path d="M12 8V4H8"/><rect width="16" height="12" x="4" y="8" rx="2"/><path d="M2 14h2"/><path d="M20 14h2"/><path d="M15 13v2"/><path d="M9 13v2"/></svg></div>
<div style="position:absolute;right:35px;top:1293.50px;height:40px;display:flex;align-items:center;color:#64748b;font-size:26px;line-height:40px;white-space:nowrap"><svg width="24" height="24" viewBox="0 0 24 24" fill="none" stroke="#64748b" stroke-width="1.9" stroke-linecap="round" stroke-linejoin="round" style="margin-left:0px;margin-right:8px;margin-top:-2px"><line x1="18" x2="18" y1="20" y2="10"/><line x1="12" x2="12" y1="20" y2="4"/><line x1="6" x2="6" y1="20" y2="14"/></svg><span style="letter-spacing:-0.3px">$18K</span><svg width="24" height="24" viewBox="0 0 24 24" fill="none" stroke="#64748b" stroke-width="1.9" stroke-linecap="round" stroke-linejoin="round" style="margin-left:17px;margin-right:9px;margin-top:-2px"><line x1="12" x2="12" y1="20" y2="10"/><line x1="18" x2="18" y1="20" y2="4"/><line x1="6" x2="6" y1="20" y2="16"/></svg><span style="letter-spacing:-0.3px">$54K</span><svg width="24" height="24" viewBox="0 0 24 24" fill="none" stroke="#64748b" stroke-width="1.9" stroke-linecap="round" stroke-linejoin="round" style="margin-left:17px;margin-right:7px;margin-top:-2px"><circle cx="12" cy="12" r="10"/><path d="M16 8h-6a2 2 0 1 0 0 4h4a2 2 0 1 1 0 4H8"/><path d="M12 18V6"/></svg><span style="letter-spacing:-1px">5K</span></div>
<div style="position:absolute;left:1138px;top:1337.5px;width:367.5px;height:59px;box-sizing:border-box;border:2px solid #e2e2e2;border-radius:12px;display:flex;align-items:center;justify-content:center;color:#334155;font-size:28px;white-space:nowrap"><span style="-webkit-text-stroke:0.7px #334155;position:relative;top:0px">Yes</span><span style="display:inline-block;width:2px;height:32px;background:#e2e2e2;margin:0 17px"></span><span style="-webkit-text-stroke:0.7px #334155;letter-spacing:0.5px;font-size:29px">36.00¢</span></div>
<div style="position:absolute;left:1514px;top:1337.5px;width:653px;height:59px;box-sizing:border-box;border:2px solid #e2e2e2;border-radius:12px;display:flex;align-items:center;justify-content:center;color:#334155;font-size:28px;white-space:nowrap"><span style="-webkit-text-stroke:0.7px #334155;position:relative;top:0px">No</span><span style="display:inline-block;width:2px;height:32px;background:#e2e2e2;margin:0 17px"></span><span style="-webkit-text-stroke:0.7px #334155;letter-spacing:0.5px;font-size:29px">64.00¢</span></div>
<div style="position:absolute;left:1139px;top:1417.30px;height:40px;display:flex;align-items:center;color:#334155;font-size:28px;line-height:40px;white-space:nowrap"><span style="letter-spacing:0.3px">October 31</span><svg width="24" height="24" viewBox="0 0 24 24" fill="none" stroke="#334155" stroke-width="1.8" stroke-linecap="round" stroke-linejoin="round" style="margin-left:7px;margin-top:1px"><circle cx="12" cy="12" r="10"/><path d="M9.09 9a3 3 0 0 1 5.83 1c0 2-3 3-3 3"/><path d="M12 17h.01"/></svg><svg width="24" height="24" viewBox="0 0 24 24" fill="none" stroke="#334155" stroke-width="1.8" stroke-linecap="round" stroke-linejoin="round" style="margin-left:8px;margin-top:1px"><path d="M12 8V4H8"/><rect width="16" height="12" x="4" y="8" rx="2"/><path d="M2 14h2"/><path d="M20 14h2"/><path d="M15 13v2"/><path d="M9 13v2"/></svg></div>
<div style="position:absolute;right:35px;top:1418.00px;height:40px;display:flex;align-items:center;color:#64748b;font-size:26px;line-height:40px;white-space:nowrap"><svg width="24" height="24" viewBox="0 0 24 24" fill="none" stroke="#64748b" stroke-width="1.9" stroke-linecap="round" stroke-linejoin="round" style="margin-left:0px;margin-right:8px;margin-top:-2px"><line x1="18" x2="18" y1="20" y2="10"/><line x1="12" x2="12" y1="20" y2="4"/><line x1="6" x2="6" y1="20" y2="14"/></svg><span style="letter-spacing:-0.3px">$70K</span><svg width="24" height="24" viewBox="0 0 24 24" fill="none" stroke="#64748b" stroke-width="1.9" stroke-linecap="round" stroke-linejoin="round" style="margin-left:17px;margin-right:9px;margin-top:-2px"><line x1="12" x2="12" y1="20" y2="10"/><line x1="18" x2="18" y1="20" y2="4"/><line x1="6" x2="6" y1="20" y2="16"/></svg><span style="letter-spacing:-0.3px">$1.8M</span><svg width="24" height="24" viewBox="0 0 24 24" fill="none" stroke="#64748b" stroke-width="1.9" stroke-linecap="round" stroke-linejoin="round" style="margin-left:17px;margin-right:7px;margin-top:-2px"><circle cx="12" cy="12" r="10"/><path d="M16 8h-6a2 2 0 1 0 0 4h4a2 2 0 1 1 0 4H8"/><path d="M12 18V6"/></svg><span style="letter-spacing:-1px">38K</span></div>
<div style="position:absolute;left:1139px;top:1462px;width:205px;height:59px;box-sizing:border-box;border:2px solid #e2e2e2;border-radius:12px;display:flex;align-items:center;justify-content:center;color:#334155;font-size:28px;white-space:nowrap"><span style="-webkit-text-stroke:0.7px #334155;position:relative;top:0px">Yes</span><span style="display:inline-block;width:2px;height:32px;background:#e2e2e2;margin:0 17px"></span><span style="-webkit-text-stroke:0.7px #334155;letter-spacing:0.5px;font-size:29px">13.50¢</span></div>
<div style="position:absolute;left:1354px;top:1462px;width:813px;height:59px;box-sizing:border-box;border:2px solid #e2e2e2;border-radius:12px;display:flex;align-items:center;justify-content:center;color:#334155;font-size:28px;white-space:nowrap"><span style="-webkit-text-stroke:0.7px #334155;position:relative;top:0px">No</span><span style="display:inline-block;width:2px;height:32px;background:#e2e2e2;margin:0 17px"></span><span style="-webkit-text-stroke:0.7px #334155;letter-spacing:0.5px;font-size:29px">86.50¢</span></div>
<div style="position:absolute;left:1106px;top:1553px;width:1093px;height:2px;background:#e5e5e5;"></div>
<svg style="position:absolute;left:1138px;top:1587px;" width="32" height="32" viewBox="0 0 24 24" fill="none" stroke="#0a0a0a" stroke-width="2" stroke-linecap="round" stroke-linejoin="round"><path d="M14.536 21.686a.5.5 0 0 0 .937-.024l6.5-19a.496.496 0 0 0-.635-.635l-19 6.5a.5.5 0 0 0-.024.937l7.93 3.18a2 2 0 0 1 1.112 1.11z"/><path d="m21.854 2.147-10.94 10.939"/></svg>
<svg style="position:absolute;left:1660px;top:1587px;" width="32" height="32" viewBox="0 0 24 24" fill="none" stroke="#0a0a0a" stroke-width="2" stroke-linecap="round" stroke-linejoin="round"><path d="M10 13a5 5 0 0 0 7.54.54l3-3a5 5 0 0 0-7.07-7.07l-1.72 1.71"/><path d="M14 11a5 5 0 0 0-7.54-.54l-3 3a5 5 0 0 0 7.07 7.07l1.71-1.71"/></svg></body></html>
